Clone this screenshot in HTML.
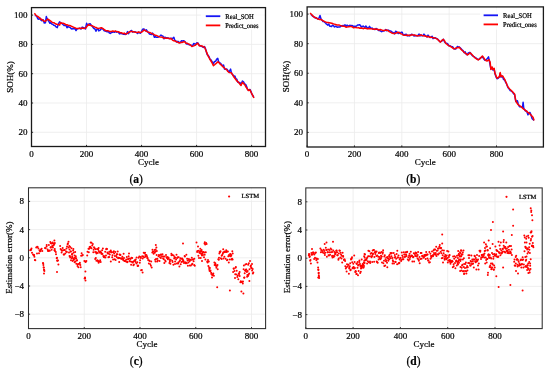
<!DOCTYPE html><html><head><meta charset="utf-8"><title>SOH estimation</title>
<style>html,body{margin:0;padding:0;background:#fff;}svg{display:block;}</style></head><body>
<svg width="550" height="371" viewBox="0 0 550 371" font-family='"Liberation Serif", "Times New Roman", serif' font-size="9.0" fill="#000">
<style>text{stroke:#000;stroke-width:0.2px;} text.lg{text-rendering:geometricPrecision;stroke-width:0.22px;}</style>
<rect width="550" height="371" fill="#fff"/>
<line x1="86.53" y1="7.60" x2="86.53" y2="146.50" stroke="#ebebeb" stroke-width="0.8"/>
<line x1="141.55" y1="7.60" x2="141.55" y2="146.50" stroke="#ebebeb" stroke-width="0.8"/>
<line x1="196.58" y1="7.60" x2="196.58" y2="146.50" stroke="#ebebeb" stroke-width="0.8"/>
<line x1="251.60" y1="7.60" x2="251.60" y2="146.50" stroke="#ebebeb" stroke-width="0.8"/>
<line x1="31.50" y1="132.30" x2="265.50" y2="132.30" stroke="#ebebeb" stroke-width="0.8"/>
<line x1="31.50" y1="103.00" x2="265.50" y2="103.00" stroke="#ebebeb" stroke-width="0.8"/>
<line x1="31.50" y1="73.70" x2="265.50" y2="73.70" stroke="#ebebeb" stroke-width="0.8"/>
<line x1="31.50" y1="44.40" x2="265.50" y2="44.40" stroke="#ebebeb" stroke-width="0.8"/>
<line x1="31.50" y1="15.10" x2="265.50" y2="15.10" stroke="#ebebeb" stroke-width="0.8"/>
<line x1="354.45" y1="6.90" x2="354.45" y2="147.00" stroke="#ebebeb" stroke-width="0.8"/>
<line x1="401.80" y1="6.90" x2="401.80" y2="147.00" stroke="#ebebeb" stroke-width="0.8"/>
<line x1="449.15" y1="6.90" x2="449.15" y2="147.00" stroke="#ebebeb" stroke-width="0.8"/>
<line x1="496.50" y1="6.90" x2="496.50" y2="147.00" stroke="#ebebeb" stroke-width="0.8"/>
<line x1="307.10" y1="132.40" x2="543.40" y2="132.40" stroke="#ebebeb" stroke-width="0.8"/>
<line x1="307.10" y1="102.83" x2="543.40" y2="102.83" stroke="#ebebeb" stroke-width="0.8"/>
<line x1="307.10" y1="73.25" x2="543.40" y2="73.25" stroke="#ebebeb" stroke-width="0.8"/>
<line x1="307.10" y1="43.67" x2="543.40" y2="43.67" stroke="#ebebeb" stroke-width="0.8"/>
<line x1="307.10" y1="14.10" x2="543.40" y2="14.10" stroke="#ebebeb" stroke-width="0.8"/>
<line x1="84.25" y1="187.80" x2="84.25" y2="328.60" stroke="#ebebeb" stroke-width="0.8"/>
<line x1="140.00" y1="187.80" x2="140.00" y2="328.60" stroke="#ebebeb" stroke-width="0.8"/>
<line x1="195.75" y1="187.80" x2="195.75" y2="328.60" stroke="#ebebeb" stroke-width="0.8"/>
<line x1="251.50" y1="187.80" x2="251.50" y2="328.60" stroke="#ebebeb" stroke-width="0.8"/>
<line x1="28.50" y1="314.20" x2="265.60" y2="314.20" stroke="#ebebeb" stroke-width="0.8"/>
<line x1="28.50" y1="286.00" x2="265.60" y2="286.00" stroke="#ebebeb" stroke-width="0.8"/>
<line x1="28.50" y1="257.80" x2="265.60" y2="257.80" stroke="#ebebeb" stroke-width="0.8"/>
<line x1="28.50" y1="229.60" x2="265.60" y2="229.60" stroke="#ebebeb" stroke-width="0.8"/>
<line x1="28.50" y1="201.40" x2="265.60" y2="201.40" stroke="#ebebeb" stroke-width="0.8"/>
<line x1="353.10" y1="187.90" x2="353.10" y2="328.60" stroke="#ebebeb" stroke-width="0.8"/>
<line x1="400.40" y1="187.90" x2="400.40" y2="328.60" stroke="#ebebeb" stroke-width="0.8"/>
<line x1="447.70" y1="187.90" x2="447.70" y2="328.60" stroke="#ebebeb" stroke-width="0.8"/>
<line x1="495.00" y1="187.90" x2="495.00" y2="328.60" stroke="#ebebeb" stroke-width="0.8"/>
<line x1="305.80" y1="314.60" x2="542.20" y2="314.60" stroke="#ebebeb" stroke-width="0.8"/>
<line x1="305.80" y1="286.40" x2="542.20" y2="286.40" stroke="#ebebeb" stroke-width="0.8"/>
<line x1="305.80" y1="258.20" x2="542.20" y2="258.20" stroke="#ebebeb" stroke-width="0.8"/>
<line x1="305.80" y1="230.00" x2="542.20" y2="230.00" stroke="#ebebeb" stroke-width="0.8"/>
<line x1="305.80" y1="201.80" x2="542.20" y2="201.80" stroke="#ebebeb" stroke-width="0.8"/>
<rect x="201" y="8.3" width="63.5" height="21.5" fill="#fff" fill-opacity="0.75"/>
<rect x="480" y="7.6" width="62.8" height="22" fill="#fff" fill-opacity="0.75"/>
<rect x="222" y="188.5" width="42.5" height="12" fill="#fff" fill-opacity="0.6"/>
<rect x="500" y="188.5" width="41" height="12" fill="#fff" fill-opacity="0.6"/>
<path d="M34.70,15.40 L35.75,15.49 L36.80,16.49 L37.85,18.83 L38.90,19.30 L39.93,18.08 L40.97,20.19 L42.00,20.80 L43.13,19.77 L44.27,22.96 L45.40,22.80 L46.30,16.60 L47.00,18.50 L48.00,20.20 L49.00,21.60 L49.94,23.34 L50.88,22.66 L51.82,24.06 L52.76,24.27 L53.70,25.20 L54.90,25.45 L56.10,26.91 L57.30,27.60 L58.45,23.81 L59.60,21.90 L61.00,23.00 L62.00,23.48 L63.00,24.50 L64.00,25.42 L65.00,25.34 L66.00,25.39 L67.00,27.74 L68.00,26.50 L69.00,27.17 L70.00,27.31 L71.00,28.49 L72.00,29.00 L73.00,28.61 L74.00,28.71 L75.00,28.74 L76.00,30.52 L77.00,29.00 L78.04,28.64 L79.08,28.37 L80.12,28.37 L81.16,28.99 L82.20,27.10 L83.27,27.57 L84.33,27.90 L85.40,29.00 L86.60,23.30 L87.80,25.51 L89.00,24.00 L90.13,23.74 L91.27,25.39 L92.40,26.50 L93.70,28.25 L95.00,29.00 L95.95,31.19 L96.90,29.24 L97.85,28.60 L98.80,30.90 L100.10,30.20 L101.40,28.50 L102.35,28.73 L103.30,29.46 L104.25,30.72 L105.20,31.00 L106.25,31.42 L107.30,31.72 L108.35,31.43 L109.40,32.97 L110.45,33.38 L111.50,32.50 L112.47,32.27 L113.45,31.66 L114.43,32.30 L115.40,31.50 L116.42,32.26 L117.44,31.52 L118.46,32.35 L119.48,33.89 L120.50,33.50 L121.50,33.63 L122.50,33.65 L123.50,34.26 L124.50,34.27 L125.50,34.50 L126.52,33.80 L127.54,31.65 L128.56,33.71 L129.58,31.85 L130.60,31.00 L131.62,30.54 L132.64,32.13 L133.66,31.83 L134.68,31.81 L135.70,32.00 L136.67,32.70 L137.63,33.53 L138.60,32.17 L139.57,32.86 L140.53,33.20 L141.50,31.50 L142.45,29.48 L143.40,29.00 L144.42,29.31 L145.44,30.98 L146.46,29.82 L147.48,31.60 L148.50,32.50 L149.50,33.97 L150.50,34.28 L151.50,34.43 L152.50,33.08 L153.50,35.00 L154.47,37.34 L155.45,36.56 L156.43,37.30 L157.40,37.30 L158.70,37.02 L160.00,36.00 L160.98,35.05 L161.97,35.59 L162.95,36.09 L163.93,38.77 L164.92,37.04 L165.90,38.00 L166.94,37.86 L167.98,37.89 L169.02,38.55 L170.06,38.54 L171.10,38.20 L172.01,38.88 L172.92,38.21 L173.83,37.28 L174.74,40.24 L175.66,40.79 L176.57,41.99 L177.48,41.47 L178.39,41.56 L179.30,42.50 L180.34,42.55 L181.38,40.81 L182.42,40.94 L183.46,40.71 L184.50,41.20 L185.43,42.02 L186.35,43.97 L187.28,43.57 L188.20,44.46 L189.12,44.38 L190.05,45.01 L190.97,45.06 L191.90,46.00 L192.82,45.41 L193.75,43.43 L194.68,43.97 L195.60,44.50 L196.70,42.78 L197.80,43.00 L199.30,45.20 L200.34,46.09 L201.38,46.22 L202.42,46.84 L203.46,47.41 L204.50,46.50 L205.43,48.52 L206.35,51.79 L207.27,54.72 L208.20,55.50 L209.13,56.96 L210.07,59.25 L211.00,59.90 L212.20,61.83 L213.40,64.00 L214.50,61.39 L215.60,61.29 L216.70,59.18 L217.80,58.40 L218.50,61.50 L219.57,62.68 L220.63,63.35 L221.70,64.80 L222.62,65.94 L223.55,65.00 L224.47,69.06 L225.40,69.42 L226.32,69.04 L227.25,69.52 L228.17,71.10 L229.10,72.00 L230.60,69.10 L231.30,72.30 L232.20,74.11 L233.10,75.22 L234.00,76.50 L234.90,76.02 L235.80,78.80 L236.84,79.15 L237.88,82.21 L238.92,82.58 L239.96,82.46 L241.00,84.80 L242.40,81.00 L243.55,81.85 L244.70,84.00 L245.62,84.41 L246.55,86.23 L247.47,89.39 L248.40,90.00 L249.90,89.40 L250.90,91.26 L251.90,94.30 L252.90,95.62 L253.90,97.50" fill="none" stroke="#1515f5" stroke-width="1.5" stroke-linejoin="round"/>
<path d="M34.40,13.30 L35.75,14.92 L37.10,16.30 L38.30,16.75 L39.50,17.91 L40.70,19.00 L42.27,19.78 L43.83,20.90 L45.40,21.30 L47.80,19.00 L49.00,19.90 L50.75,21.20 L52.50,22.50 L53.90,22.69 L55.30,23.78 L56.70,24.30 L58.15,24.45 L59.60,25.20 L60.50,22.60 L61.80,23.26 L63.10,23.30 L64.38,23.71 L65.65,24.70 L66.92,24.69 L68.20,25.20 L69.47,25.42 L70.75,25.78 L72.03,26.53 L73.30,27.10 L74.57,27.64 L75.83,28.26 L77.10,28.40 L78.38,28.47 L79.66,28.22 L80.94,28.53 L82.22,28.04 L83.50,28.40 L84.75,28.18 L86.00,27.70 L87.25,25.91 L88.50,24.50 L89.80,25.31 L91.10,25.61 L92.40,25.80 L93.70,26.54 L95.00,27.10 L96.25,27.49 L97.50,28.40 L98.80,28.30 L100.10,28.03 L101.40,27.70 L102.67,28.43 L103.93,29.28 L105.20,30.30 L106.46,30.86 L107.72,30.68 L108.98,31.13 L110.24,31.61 L111.50,31.50 L112.80,30.93 L114.10,31.55 L115.40,30.90 L116.68,31.63 L117.95,31.69 L119.22,32.09 L120.50,32.80 L121.75,32.82 L123.00,33.68 L124.25,33.13 L125.50,34.10 L126.78,33.68 L128.05,32.84 L129.32,31.98 L130.60,31.50 L131.88,31.55 L133.15,31.76 L134.42,31.97 L135.70,32.20 L137.15,32.42 L138.60,31.99 L140.05,32.47 L141.50,32.20 L142.75,31.35 L144.00,30.00 L145.50,30.67 L147.00,31.62 L148.50,32.20 L149.75,32.54 L151.00,33.16 L152.25,33.75 L153.50,34.10 L154.78,35.21 L156.05,35.34 L157.32,35.94 L158.60,36.60 L159.82,36.89 L161.03,37.12 L162.25,37.18 L163.47,38.20 L164.68,37.86 L165.90,38.30 L167.20,38.23 L168.50,38.27 L169.80,38.70 L171.10,38.60 L172.47,40.09 L173.83,40.86 L175.20,41.10 L176.57,41.69 L177.93,42.34 L179.30,43.10 L180.60,42.47 L181.90,42.54 L183.20,41.95 L184.50,41.60 L185.73,42.94 L186.97,43.16 L188.20,43.80 L189.43,44.41 L190.67,45.24 L191.90,46.50 L193.13,46.15 L194.37,45.59 L195.60,45.00 L197.80,43.20 L199.30,45.80 L200.60,45.81 L201.90,46.02 L203.20,46.77 L204.50,47.00 L205.73,49.94 L206.97,53.12 L208.20,56.10 L209.50,58.52 L210.80,60.75 L212.10,62.94 L213.40,65.80 L214.93,64.47 L216.47,63.09 L218.00,61.70 L219.23,62.98 L220.47,64.40 L221.70,65.40 L222.93,66.82 L224.17,67.64 L225.40,69.10 L226.63,69.59 L227.87,71.49 L229.10,72.50 L231.30,72.80 L232.80,75.03 L234.30,77.52 L235.80,79.50 L237.10,81.22 L238.40,82.21 L239.70,83.89 L241.00,85.40 L242.40,82.40 L244.70,84.70 L245.93,86.95 L247.17,88.50 L248.40,90.60 L249.90,89.90 L251.23,92.62 L252.57,95.15 L253.90,98.00" fill="none" stroke="#ff0000" stroke-width="1.5" stroke-linejoin="round"/>
<path d="M310.70,14.30 L311.60,14.87 L312.50,16.20 L313.40,16.41 L314.30,17.10 L315.20,18.10 L316.13,17.70 L317.07,18.54 L318.00,19.00 L319.00,18.08 L320.00,15.50 L321.00,19.00 L322.00,20.15 L323.00,21.44 L324.00,21.50 L324.98,22.59 L325.95,23.60 L326.92,24.34 L327.90,25.10 L328.81,24.12 L329.73,26.28 L330.64,26.29 L331.56,26.56 L332.47,25.19 L333.39,25.42 L334.30,27.00 L335.24,26.33 L336.18,26.65 L337.12,27.23 L338.06,26.97 L339.00,27.00 L340.00,27.02 L341.00,25.77 L342.00,26.11 L343.00,25.50 L344.00,25.70 L345.00,24.80 L346.00,26.49 L347.00,25.10 L347.95,25.69 L348.90,26.35 L349.85,25.16 L350.80,25.80 L351.87,25.48 L352.93,26.01 L354.00,26.50 L354.90,26.14 L355.80,26.41 L356.70,25.85 L357.60,25.04 L358.50,25.10 L359.45,24.73 L360.40,25.41 L361.35,27.07 L362.30,26.50 L363.20,26.05 L364.10,27.00 L365.00,27.29 L365.90,26.01 L366.80,27.32 L367.70,28.42 L368.60,27.60 L369.51,26.36 L370.43,27.90 L371.34,28.33 L372.26,28.07 L373.17,29.33 L374.09,29.18 L375.00,29.50 L376.30,28.45 L377.60,29.60 L378.62,30.46 L379.64,30.58 L380.66,31.03 L381.68,31.64 L382.70,30.80 L383.72,30.95 L384.74,30.65 L385.76,29.47 L386.78,30.78 L387.80,30.20 L388.82,30.32 L389.84,31.02 L390.86,30.99 L391.88,31.79 L392.90,33.10 L393.81,32.60 L394.73,33.87 L395.64,31.28 L396.56,31.61 L397.47,32.78 L398.39,33.58 L399.30,32.40 L400.25,33.41 L401.20,32.13 L402.15,32.24 L403.10,34.70 L404.12,35.09 L405.14,34.39 L406.16,34.22 L407.18,35.91 L408.20,35.30 L409.15,35.88 L410.10,34.92 L411.05,34.73 L412.00,34.30 L413.02,34.89 L414.04,36.02 L415.06,35.54 L416.08,35.73 L417.10,35.60 L418.05,35.81 L419.00,34.02 L419.95,35.96 L420.90,34.80 L421.92,35.80 L422.94,35.76 L423.96,34.16 L424.98,35.44 L426.00,36.20 L427.02,36.99 L428.04,35.16 L429.06,36.54 L430.08,37.60 L431.10,37.00 L432.08,36.22 L433.05,38.61 L434.02,38.01 L435.00,37.80 L436.35,38.39 L437.70,39.20 L439.05,40.74 L440.40,41.80 L441.40,41.42 L442.40,40.16 L443.40,39.20 L444.60,42.06 L445.80,43.20 L446.88,43.36 L447.96,44.21 L449.04,45.96 L450.12,45.86 L451.20,46.50 L452.55,46.84 L453.90,48.50 L454.80,48.96 L455.70,49.10 L456.60,47.42 L457.50,46.47 L458.40,47.15 L459.30,47.00 L460.65,48.29 L462.00,49.80 L463.08,50.54 L464.16,52.77 L465.24,51.91 L466.32,54.59 L467.40,54.60 L468.30,52.95 L469.20,52.61 L470.10,52.50 L471.10,54.00 L472.10,55.40 L473.10,56.22 L474.10,56.60 L475.12,57.61 L476.15,58.21 L477.18,58.96 L478.20,59.60 L479.25,59.26 L480.30,57.92 L481.35,57.48 L482.40,56.50 L483.65,58.78 L484.90,60.20 L486.30,59.80 L487.40,58.35 L488.50,56.90 L489.50,61.50 L490.90,69.00 L492.10,67.50 L493.00,70.00 L494.10,69.00 L495.00,73.80 L496.00,76.82 L497.00,78.70 L498.20,78.27 L499.40,77.00 L500.20,73.50 L501.00,77.00 L502.60,76.50 L503.55,79.51 L504.50,79.50 L505.40,81.82 L506.30,83.33 L507.20,85.45 L508.10,87.80 L509.17,88.86 L510.23,90.63 L511.30,91.00 L512.40,91.95 L513.50,93.69 L514.60,94.60 L515.80,101.40 L517.40,100.70 L518.20,104.00 L519.45,106.78 L520.70,106.80 L522.50,107.50 L523.10,102.30 L523.80,108.50 L525.50,111.00 L526.70,110.98 L527.90,114.80 L528.95,112.76 L530.00,112.40 L531.00,115.00 L532.00,118.40 L533.00,119.53 L534.00,120.30" fill="none" stroke="#1515f5" stroke-width="1.5" stroke-linejoin="round"/>
<path d="M310.10,13.00 L311.35,14.34 L312.60,15.50 L313.90,17.00 L315.20,17.51 L316.50,18.10 L318.05,19.03 L319.60,19.40 L321.00,19.50 L322.47,20.46 L323.93,21.20 L325.40,21.90 L326.67,22.39 L327.93,22.53 L329.20,22.68 L330.47,22.95 L331.73,23.20 L333.00,23.80 L334.28,24.14 L335.56,24.49 L336.84,25.02 L338.12,24.99 L339.40,25.10 L340.66,25.58 L341.92,26.06 L343.18,26.26 L344.44,26.17 L345.70,27.00 L346.98,27.15 L348.25,26.61 L349.52,26.63 L350.80,26.40 L352.07,26.66 L353.35,27.77 L354.62,27.62 L355.90,27.60 L357.18,27.87 L358.46,27.62 L359.74,28.28 L361.02,27.96 L362.30,28.30 L363.58,28.69 L364.87,28.07 L366.15,28.51 L367.43,28.84 L368.72,28.44 L370.00,28.70 L371.27,28.84 L372.53,28.94 L373.80,29.22 L375.07,28.94 L376.33,29.33 L377.60,29.20 L378.88,30.07 L380.15,29.44 L381.43,29.91 L382.70,30.40 L383.98,30.55 L385.25,30.26 L386.52,30.08 L387.80,30.40 L389.07,31.55 L390.35,32.18 L391.62,32.97 L392.90,33.40 L394.18,33.57 L395.46,33.34 L396.74,32.80 L398.02,32.26 L399.30,32.70 L400.57,33.63 L401.83,33.99 L403.10,35.00 L404.38,35.17 L405.65,35.38 L406.93,35.08 L408.20,35.50 L409.47,35.15 L410.73,35.39 L412.00,34.60 L413.27,35.16 L414.55,34.86 L415.83,35.56 L417.10,35.90 L418.37,35.64 L419.63,35.48 L420.90,35.00 L422.17,35.55 L423.45,35.67 L424.73,35.95 L426.00,36.30 L427.27,36.79 L428.55,36.41 L429.83,37.31 L431.10,37.20 L432.40,37.62 L433.70,37.70 L435.00,38.10 L436.35,38.63 L437.70,39.40 L439.05,40.84 L440.40,42.10 L441.90,40.40 L443.40,39.40 L444.60,40.87 L445.80,43.50 L447.15,44.48 L448.50,45.61 L449.85,46.04 L451.20,46.90 L452.55,47.94 L453.90,48.90 L455.25,48.52 L456.60,47.87 L457.95,47.83 L459.30,47.30 L460.65,48.98 L462.00,50.20 L463.35,51.43 L464.70,52.86 L466.05,53.55 L467.40,55.00 L468.75,54.04 L470.10,52.90 L471.43,54.09 L472.77,55.52 L474.10,57.00 L475.47,58.09 L476.83,59.06 L478.20,60.00 L479.60,58.94 L481.00,57.59 L482.40,56.10 L483.65,57.61 L484.90,59.70 L486.10,60.65 L487.30,60.90 L488.90,59.70 L490.10,62.10 L490.90,69.40 L492.10,67.00 L492.90,69.40 L494.10,68.20 L495.00,73.40 L497.00,78.30 L499.40,76.70 L500.20,72.60 L501.00,76.70 L502.60,75.90 L504.50,79.20 L505.70,81.51 L506.90,84.59 L508.10,87.30 L509.70,88.99 L511.30,90.50 L512.95,92.29 L514.60,94.10 L515.80,101.00 L517.00,102.99 L518.20,104.70 L519.45,105.51 L520.70,106.30 L523.10,108.70 L525.50,110.40 L527.90,112.40 L529.60,113.60 L531.20,115.20 L533.20,117.60 L534.00,120.50" fill="none" stroke="#ff0000" stroke-width="1.5" stroke-linejoin="round"/>
<g fill="#ff0000"><circle cx="30.2" cy="250.2" r="1.0"/><circle cx="30.8" cy="249.9" r="1.0"/><circle cx="31.1" cy="249.4" r="1.0"/><circle cx="31.5" cy="248.6" r="1.0"/><circle cx="32.0" cy="252.7" r="1.0"/><circle cx="33.0" cy="254.5" r="1.0"/><circle cx="33.8" cy="255.3" r="1.0"/><circle cx="34.1" cy="254.9" r="1.0"/><circle cx="34.4" cy="256.7" r="1.0"/><circle cx="34.9" cy="259.9" r="1.0"/><circle cx="35.3" cy="260.2" r="1.0"/><circle cx="36.2" cy="247.6" r="1.0"/><circle cx="37.0" cy="253.4" r="1.0"/><circle cx="37.2" cy="246.7" r="1.0"/><circle cx="37.6" cy="247.0" r="1.0"/><circle cx="38.4" cy="248.6" r="1.0"/><circle cx="39.0" cy="253.2" r="1.0"/><circle cx="39.5" cy="250.4" r="1.0"/><circle cx="40.0" cy="251.1" r="1.0"/><circle cx="40.4" cy="250.0" r="1.0"/><circle cx="40.5" cy="251.2" r="1.0"/><circle cx="41.1" cy="249.4" r="1.0"/><circle cx="41.6" cy="248.8" r="1.0"/><circle cx="42.3" cy="251.1" r="1.0"/><circle cx="43.0" cy="262.9" r="1.0"/><circle cx="43.2" cy="263.6" r="1.0"/><circle cx="43.4" cy="265.0" r="1.0"/><circle cx="43.6" cy="267.2" r="1.0"/><circle cx="43.8" cy="267.8" r="1.0"/><circle cx="44.0" cy="269.7" r="1.0"/><circle cx="44.2" cy="270.1" r="1.0"/><circle cx="44.4" cy="271.0" r="1.0"/><circle cx="45.0" cy="248.0" r="1.0"/><circle cx="45.7" cy="248.2" r="1.0"/><circle cx="46.6" cy="246.4" r="1.0"/><circle cx="46.7" cy="245.1" r="1.0"/><circle cx="47.6" cy="249.5" r="1.0"/><circle cx="48.0" cy="250.7" r="1.0"/><circle cx="48.2" cy="251.0" r="1.0"/><circle cx="48.9" cy="245.0" r="1.0"/><circle cx="49.2" cy="250.6" r="1.0"/><circle cx="49.8" cy="250.8" r="1.0"/><circle cx="50.6" cy="247.3" r="1.0"/><circle cx="50.8" cy="247.4" r="1.0"/><circle cx="51.6" cy="249.7" r="1.0"/><circle cx="52.3" cy="246.1" r="1.0"/><circle cx="52.3" cy="246.6" r="1.0"/><circle cx="52.9" cy="247.6" r="1.0"/><circle cx="53.7" cy="245.3" r="1.0"/><circle cx="54.4" cy="250.3" r="1.0"/><circle cx="54.8" cy="249.0" r="1.0"/><circle cx="55.0" cy="250.9" r="1.0"/><circle cx="55.8" cy="252.1" r="1.0"/><circle cx="50.3" cy="241.9" r="1.0"/><circle cx="50.8" cy="243.3" r="1.0"/><circle cx="51.7" cy="243.4" r="1.0"/><circle cx="52.3" cy="243.2" r="1.0"/><circle cx="52.7" cy="242.5" r="1.0"/><circle cx="53.7" cy="243.8" r="1.0"/><circle cx="54.3" cy="244.1" r="1.0"/><circle cx="54.8" cy="243.1" r="1.0"/><circle cx="56.0" cy="254.3" r="1.0"/><circle cx="56.7" cy="258.2" r="1.0"/><circle cx="57.0" cy="257.8" r="1.0"/><circle cx="57.2" cy="260.8" r="1.0"/><circle cx="57.4" cy="260.5" r="1.0"/><circle cx="58.0" cy="260.6" r="1.0"/><circle cx="58.4" cy="264.6" r="1.0"/><circle cx="60.1" cy="245.9" r="1.0"/><circle cx="60.6" cy="248.9" r="1.0"/><circle cx="61.4" cy="249.9" r="1.0"/><circle cx="61.6" cy="252.4" r="1.0"/><circle cx="62.0" cy="250.7" r="1.0"/><circle cx="62.7" cy="248.1" r="1.0"/><circle cx="63.1" cy="250.2" r="1.0"/><circle cx="63.7" cy="254.5" r="1.0"/><circle cx="64.1" cy="254.5" r="1.0"/><circle cx="64.4" cy="250.1" r="1.0"/><circle cx="64.8" cy="250.0" r="1.0"/><circle cx="65.3" cy="253.4" r="1.0"/><circle cx="66.1" cy="251.6" r="1.0"/><circle cx="66.5" cy="248.5" r="1.0"/><circle cx="66.9" cy="251.9" r="1.0"/><circle cx="67.0" cy="246.4" r="1.0"/><circle cx="67.6" cy="244.3" r="1.0"/><circle cx="67.9" cy="243.6" r="1.0"/><circle cx="68.5" cy="247.4" r="1.0"/><circle cx="69.0" cy="252.5" r="1.0"/><circle cx="69.3" cy="246.0" r="1.0"/><circle cx="69.5" cy="249.5" r="1.0"/><circle cx="70.2" cy="246.9" r="1.0"/><circle cx="70.6" cy="251.6" r="1.0"/><circle cx="70.9" cy="251.5" r="1.0"/><circle cx="71.5" cy="248.3" r="1.0"/><circle cx="71.9" cy="254.2" r="1.0"/><circle cx="72.2" cy="256.2" r="1.0"/><circle cx="72.5" cy="253.7" r="1.0"/><circle cx="73.1" cy="250.4" r="1.0"/><circle cx="73.4" cy="249.1" r="1.0"/><circle cx="73.8" cy="252.6" r="1.0"/><circle cx="74.0" cy="259.5" r="1.0"/><circle cx="74.6" cy="255.4" r="1.0"/><circle cx="74.9" cy="257.8" r="1.0"/><circle cx="75.2" cy="252.1" r="1.0"/><circle cx="75.8" cy="256.2" r="1.0"/><circle cx="69.5" cy="256.1" r="1.0"/><circle cx="70.0" cy="256.3" r="1.0"/><circle cx="70.2" cy="257.6" r="1.0"/><circle cx="71.0" cy="260.3" r="1.0"/><circle cx="71.8" cy="258.3" r="1.0"/><circle cx="72.4" cy="257.4" r="1.0"/><circle cx="72.6" cy="261.1" r="1.0"/><circle cx="73.4" cy="260.1" r="1.0"/><circle cx="73.7" cy="258.6" r="1.0"/><circle cx="74.6" cy="262.3" r="1.0"/><circle cx="75.3" cy="261.5" r="1.0"/><circle cx="75.6" cy="258.4" r="1.0"/><circle cx="76.2" cy="258.3" r="1.0"/><circle cx="77.0" cy="260.3" r="1.0"/><circle cx="76.3" cy="263.8" r="1.0"/><circle cx="76.8" cy="260.4" r="1.0"/><circle cx="77.5" cy="266.1" r="1.0"/><circle cx="77.6" cy="264.3" r="1.0"/><circle cx="78.4" cy="267.2" r="1.0"/><circle cx="78.7" cy="263.9" r="1.0"/><circle cx="79.5" cy="263.8" r="1.0"/><circle cx="79.9" cy="262.8" r="1.0"/><circle cx="80.3" cy="265.0" r="1.0"/><circle cx="80.7" cy="267.3" r="1.0"/><circle cx="81.1" cy="255.8" r="1.0"/><circle cx="81.6" cy="253.2" r="1.0"/><circle cx="82.2" cy="255.6" r="1.0"/><circle cx="82.8" cy="255.1" r="1.0"/><circle cx="84.4" cy="260.9" r="1.0"/><circle cx="85.2" cy="261.4" r="1.0"/><circle cx="85.7" cy="262.1" r="1.0"/><circle cx="86.4" cy="261.1" r="1.0"/><circle cx="84.6" cy="278.4" r="1.0"/><circle cx="85.0" cy="277.4" r="1.0"/><circle cx="85.1" cy="278.2" r="1.0"/><circle cx="85.5" cy="280.6" r="1.0"/><circle cx="87.2" cy="255.4" r="1.0"/><circle cx="87.5" cy="251.8" r="1.0"/><circle cx="88.5" cy="248.8" r="1.0"/><circle cx="88.8" cy="252.3" r="1.0"/><circle cx="89.1" cy="248.7" r="1.0"/><circle cx="89.6" cy="246.9" r="1.0"/><circle cx="90.3" cy="246.7" r="1.0"/><circle cx="90.6" cy="247.8" r="1.0"/><circle cx="91.5" cy="242.8" r="1.0"/><circle cx="91.5" cy="248.2" r="1.0"/><circle cx="92.2" cy="245.6" r="1.0"/><circle cx="92.8" cy="244.0" r="1.0"/><circle cx="93.3" cy="252.3" r="1.0"/><circle cx="93.6" cy="249.8" r="1.0"/><circle cx="94.0" cy="247.2" r="1.0"/><circle cx="94.7" cy="248.2" r="1.0"/><circle cx="95.2" cy="252.0" r="1.0"/><circle cx="95.7" cy="249.2" r="1.0"/><circle cx="96.3" cy="252.2" r="1.0"/><circle cx="96.4" cy="253.5" r="1.0"/><circle cx="97.2" cy="249.0" r="1.0"/><circle cx="97.7" cy="253.1" r="1.0"/><circle cx="98.1" cy="249.3" r="1.0"/><circle cx="98.6" cy="247.9" r="1.0"/><circle cx="98.7" cy="251.0" r="1.0"/><circle cx="99.5" cy="252.5" r="1.0"/><circle cx="99.9" cy="252.3" r="1.0"/><circle cx="100.4" cy="251.4" r="1.0"/><circle cx="101.1" cy="252.6" r="1.0"/><circle cx="101.4" cy="253.8" r="1.0"/><circle cx="101.8" cy="253.5" r="1.0"/><circle cx="95.2" cy="259.0" r="1.0"/><circle cx="95.8" cy="258.0" r="1.0"/><circle cx="96.4" cy="260.7" r="1.0"/><circle cx="97.4" cy="260.3" r="1.0"/><circle cx="98.0" cy="261.1" r="1.0"/><circle cx="98.4" cy="261.5" r="1.0"/><circle cx="98.6" cy="262.7" r="1.0"/><circle cx="99.3" cy="261.6" r="1.0"/><circle cx="100.2" cy="260.3" r="1.0"/><circle cx="100.7" cy="262.1" r="1.0"/><circle cx="102.1" cy="250.2" r="1.0"/><circle cx="102.5" cy="254.0" r="1.0"/><circle cx="102.9" cy="248.6" r="1.0"/><circle cx="103.3" cy="256.0" r="1.0"/><circle cx="103.8" cy="257.1" r="1.0"/><circle cx="104.4" cy="257.3" r="1.0"/><circle cx="104.4" cy="256.2" r="1.0"/><circle cx="105.2" cy="251.7" r="1.0"/><circle cx="105.4" cy="257.6" r="1.0"/><circle cx="106.0" cy="255.6" r="1.0"/><circle cx="106.2" cy="249.3" r="1.0"/><circle cx="106.5" cy="248.8" r="1.0"/><circle cx="107.0" cy="248.9" r="1.0"/><circle cx="107.4" cy="252.4" r="1.0"/><circle cx="107.8" cy="253.6" r="1.0"/><circle cx="108.4" cy="257.2" r="1.0"/><circle cx="108.7" cy="253.6" r="1.0"/><circle cx="109.1" cy="257.1" r="1.0"/><circle cx="109.3" cy="251.7" r="1.0"/><circle cx="109.8" cy="254.5" r="1.0"/><circle cx="110.3" cy="251.7" r="1.0"/><circle cx="110.8" cy="261.4" r="1.0"/><circle cx="110.8" cy="250.4" r="1.0"/><circle cx="111.4" cy="252.3" r="1.0"/><circle cx="111.8" cy="252.3" r="1.0"/><circle cx="112.2" cy="257.2" r="1.0"/><circle cx="112.5" cy="255.2" r="1.0"/><circle cx="113.1" cy="259.5" r="1.0"/><circle cx="113.2" cy="252.3" r="1.0"/><circle cx="113.9" cy="251.3" r="1.0"/><circle cx="114.2" cy="253.6" r="1.0"/><circle cx="114.7" cy="259.3" r="1.0"/><circle cx="114.9" cy="256.1" r="1.0"/><circle cx="115.4" cy="252.1" r="1.0"/><circle cx="115.6" cy="259.9" r="1.0"/><circle cx="116.2" cy="256.1" r="1.0"/><circle cx="116.7" cy="254.3" r="1.0"/><circle cx="116.9" cy="257.3" r="1.0"/><circle cx="117.2" cy="254.2" r="1.0"/><circle cx="117.7" cy="251.4" r="1.0"/><circle cx="118.1" cy="258.3" r="1.0"/><circle cx="118.7" cy="257.7" r="1.0"/><circle cx="119.2" cy="262.0" r="1.0"/><circle cx="119.5" cy="254.4" r="1.0"/><circle cx="119.7" cy="258.1" r="1.0"/><circle cx="120.1" cy="254.8" r="1.0"/><circle cx="120.5" cy="255.0" r="1.0"/><circle cx="120.9" cy="258.5" r="1.0"/><circle cx="121.5" cy="258.5" r="1.0"/><circle cx="121.7" cy="258.7" r="1.0"/><circle cx="122.4" cy="256.8" r="1.0"/><circle cx="122.6" cy="258.5" r="1.0"/><circle cx="123.2" cy="259.4" r="1.0"/><circle cx="123.4" cy="260.2" r="1.0"/><circle cx="123.6" cy="253.7" r="1.0"/><circle cx="124.0" cy="257.9" r="1.0"/><circle cx="124.5" cy="260.9" r="1.0"/><circle cx="124.9" cy="261.0" r="1.0"/><circle cx="125.4" cy="261.0" r="1.0"/><circle cx="126.0" cy="261.6" r="1.0"/><circle cx="126.2" cy="259.4" r="1.0"/><circle cx="126.8" cy="256.9" r="1.0"/><circle cx="127.2" cy="262.3" r="1.0"/><circle cx="127.6" cy="261.7" r="1.0"/><circle cx="128.0" cy="259.3" r="1.0"/><circle cx="128.4" cy="258.8" r="1.0"/><circle cx="128.6" cy="256.3" r="1.0"/><circle cx="129.0" cy="253.4" r="1.0"/><circle cx="129.3" cy="258.5" r="1.0"/><circle cx="129.7" cy="261.0" r="1.0"/><circle cx="130.1" cy="261.6" r="1.0"/><circle cx="130.5" cy="259.1" r="1.0"/><circle cx="131.1" cy="264.7" r="1.0"/><circle cx="131.4" cy="257.7" r="1.0"/><circle cx="131.8" cy="261.8" r="1.0"/><circle cx="132.2" cy="257.9" r="1.0"/><circle cx="132.6" cy="262.4" r="1.0"/><circle cx="133.2" cy="261.7" r="1.0"/><circle cx="133.4" cy="265.2" r="1.0"/><circle cx="133.9" cy="264.6" r="1.0"/><circle cx="134.3" cy="260.7" r="1.0"/><circle cx="134.8" cy="260.6" r="1.0"/><circle cx="135.1" cy="260.6" r="1.0"/><circle cx="135.6" cy="261.9" r="1.0"/><circle cx="135.7" cy="259.5" r="1.0"/><circle cx="136.4" cy="263.6" r="1.0"/><circle cx="136.6" cy="257.6" r="1.0"/><circle cx="137.3" cy="262.3" r="1.0"/><circle cx="137.6" cy="265.9" r="1.0"/><circle cx="137.8" cy="265.4" r="1.0"/><circle cx="138.2" cy="265.7" r="1.0"/><circle cx="138.6" cy="257.7" r="1.0"/><circle cx="139.3" cy="256.6" r="1.0"/><circle cx="139.8" cy="262.8" r="1.0"/><circle cx="140.1" cy="260.3" r="1.0"/><circle cx="140.6" cy="256.9" r="1.0"/><circle cx="140.9" cy="257.9" r="1.0"/><circle cx="141.1" cy="270.3" r="1.0"/><circle cx="141.9" cy="269.9" r="1.0"/><circle cx="142.6" cy="272.5" r="1.0"/><circle cx="142.2" cy="256.2" r="1.0"/><circle cx="142.7" cy="258.4" r="1.0"/><circle cx="143.3" cy="256.5" r="1.0"/><circle cx="143.7" cy="252.7" r="1.0"/><circle cx="144.1" cy="257.2" r="1.0"/><circle cx="144.6" cy="253.0" r="1.0"/><circle cx="145.0" cy="252.8" r="1.0"/><circle cx="145.3" cy="254.9" r="1.0"/><circle cx="145.8" cy="256.8" r="1.0"/><circle cx="146.4" cy="255.1" r="1.0"/><circle cx="147.0" cy="256.3" r="1.0"/><circle cx="147.4" cy="257.9" r="1.0"/><circle cx="147.6" cy="258.2" r="1.0"/><circle cx="148.1" cy="260.1" r="1.0"/><circle cx="148.9" cy="263.6" r="1.0"/><circle cx="149.1" cy="260.5" r="1.0"/><circle cx="149.7" cy="261.0" r="1.0"/><circle cx="150.3" cy="264.2" r="1.0"/><circle cx="150.9" cy="265.7" r="1.0"/><circle cx="151.2" cy="261.6" r="1.0"/><circle cx="151.7" cy="267.4" r="1.0"/><circle cx="152.3" cy="252.5" r="1.0"/><circle cx="152.5" cy="249.7" r="1.0"/><circle cx="153.0" cy="251.6" r="1.0"/><circle cx="153.6" cy="253.8" r="1.0"/><circle cx="153.9" cy="251.8" r="1.0"/><circle cx="154.7" cy="250.1" r="1.0"/><circle cx="154.8" cy="252.8" r="1.0"/><circle cx="155.6" cy="249.6" r="1.0"/><circle cx="155.7" cy="251.5" r="1.0"/><circle cx="156.4" cy="247.6" r="1.0"/><circle cx="156.8" cy="250.9" r="1.0"/><circle cx="155.1" cy="259.7" r="1.0"/><circle cx="155.5" cy="261.4" r="1.0"/><circle cx="156.0" cy="259.1" r="1.0"/><circle cx="156.6" cy="255.1" r="1.0"/><circle cx="157.2" cy="261.5" r="1.0"/><circle cx="157.3" cy="258.7" r="1.0"/><circle cx="157.8" cy="260.5" r="1.0"/><circle cx="158.5" cy="256.3" r="1.0"/><circle cx="158.9" cy="254.9" r="1.0"/><circle cx="159.5" cy="261.1" r="1.0"/><circle cx="159.8" cy="255.5" r="1.0"/><circle cx="160.1" cy="257.2" r="1.0"/><circle cx="160.8" cy="254.5" r="1.0"/><circle cx="160.9" cy="257.9" r="1.0"/><circle cx="161.6" cy="254.8" r="1.0"/><circle cx="162.0" cy="256.6" r="1.0"/><circle cx="162.5" cy="254.3" r="1.0"/><circle cx="163.1" cy="258.5" r="1.0"/><circle cx="163.3" cy="256.6" r="1.0"/><circle cx="163.9" cy="259.2" r="1.0"/><circle cx="164.3" cy="263.0" r="1.0"/><circle cx="164.7" cy="256.4" r="1.0"/><circle cx="165.2" cy="260.5" r="1.0"/><circle cx="165.6" cy="261.4" r="1.0"/><circle cx="166.0" cy="254.9" r="1.0"/><circle cx="166.6" cy="257.5" r="1.0"/><circle cx="167.1" cy="257.0" r="1.0"/><circle cx="167.2" cy="258.2" r="1.0"/><circle cx="167.9" cy="259.3" r="1.0"/><circle cx="168.3" cy="257.4" r="1.0"/><circle cx="168.7" cy="258.2" r="1.0"/><circle cx="169.4" cy="262.9" r="1.0"/><circle cx="169.7" cy="259.9" r="1.0"/><circle cx="169.9" cy="261.5" r="1.0"/><circle cx="170.4" cy="263.7" r="1.0"/><circle cx="170.6" cy="259.8" r="1.0"/><circle cx="171.4" cy="253.8" r="1.0"/><circle cx="171.5" cy="255.3" r="1.0"/><circle cx="172.2" cy="260.8" r="1.0"/><circle cx="172.4" cy="255.0" r="1.0"/><circle cx="172.6" cy="262.1" r="1.0"/><circle cx="173.4" cy="264.7" r="1.0"/><circle cx="173.6" cy="255.5" r="1.0"/><circle cx="174.2" cy="258.6" r="1.0"/><circle cx="174.5" cy="257.1" r="1.0"/><circle cx="175.0" cy="264.1" r="1.0"/><circle cx="175.1" cy="261.4" r="1.0"/><circle cx="175.4" cy="257.7" r="1.0"/><circle cx="176.1" cy="259.5" r="1.0"/><circle cx="176.5" cy="254.8" r="1.0"/><circle cx="176.9" cy="263.4" r="1.0"/><circle cx="177.1" cy="258.1" r="1.0"/><circle cx="177.7" cy="257.3" r="1.0"/><circle cx="178.1" cy="263.4" r="1.0"/><circle cx="178.3" cy="262.6" r="1.0"/><circle cx="178.7" cy="257.2" r="1.0"/><circle cx="179.4" cy="261.5" r="1.0"/><circle cx="179.4" cy="266.4" r="1.0"/><circle cx="180.0" cy="260.3" r="1.0"/><circle cx="180.4" cy="258.3" r="1.0"/><circle cx="180.7" cy="264.2" r="1.0"/><circle cx="181.3" cy="258.7" r="1.0"/><circle cx="181.5" cy="262.1" r="1.0"/><circle cx="182.2" cy="258.6" r="1.0"/><circle cx="182.4" cy="261.4" r="1.0"/><circle cx="182.8" cy="259.6" r="1.0"/><circle cx="183.2" cy="260.4" r="1.0"/><circle cx="183.7" cy="261.5" r="1.0"/><circle cx="184.0" cy="262.9" r="1.0"/><circle cx="184.6" cy="255.9" r="1.0"/><circle cx="184.9" cy="256.5" r="1.0"/><circle cx="185.2" cy="262.5" r="1.0"/><circle cx="185.7" cy="263.3" r="1.0"/><circle cx="185.9" cy="262.5" r="1.0"/><circle cx="186.4" cy="254.7" r="1.0"/><circle cx="186.8" cy="263.2" r="1.0"/><circle cx="187.1" cy="258.7" r="1.0"/><circle cx="187.6" cy="260.4" r="1.0"/><circle cx="187.9" cy="265.8" r="1.0"/><circle cx="188.4" cy="262.4" r="1.0"/><circle cx="188.9" cy="259.1" r="1.0"/><circle cx="189.0" cy="260.0" r="1.0"/><circle cx="189.6" cy="261.2" r="1.0"/><circle cx="189.8" cy="265.6" r="1.0"/><circle cx="190.3" cy="259.8" r="1.0"/><circle cx="190.9" cy="265.5" r="1.0"/><circle cx="191.0" cy="260.0" r="1.0"/><circle cx="191.8" cy="257.7" r="1.0"/><circle cx="192.0" cy="264.6" r="1.0"/><circle cx="192.4" cy="263.8" r="1.0"/><circle cx="192.6" cy="259.6" r="1.0"/><circle cx="193.2" cy="259.4" r="1.0"/><circle cx="193.6" cy="261.3" r="1.0"/><circle cx="194.1" cy="264.9" r="1.0"/><circle cx="194.3" cy="258.8" r="1.0"/><circle cx="194.8" cy="265.8" r="1.0"/><circle cx="197.1" cy="252.0" r="1.0"/><circle cx="197.4" cy="250.9" r="1.0"/><circle cx="198.0" cy="246.5" r="1.0"/><circle cx="198.4" cy="255.7" r="1.0"/><circle cx="198.8" cy="250.8" r="1.0"/><circle cx="199.0" cy="258.1" r="1.0"/><circle cx="199.3" cy="252.5" r="1.0"/><circle cx="199.7" cy="251.9" r="1.0"/><circle cx="200.1" cy="253.2" r="1.0"/><circle cx="200.7" cy="257.9" r="1.0"/><circle cx="201.1" cy="251.0" r="1.0"/><circle cx="201.4" cy="253.7" r="1.0"/><circle cx="201.6" cy="250.0" r="1.0"/><circle cx="202.0" cy="261.1" r="1.0"/><circle cx="202.5" cy="252.6" r="1.0"/><circle cx="203.0" cy="255.0" r="1.0"/><circle cx="204.5" cy="243.4" r="1.0"/><circle cx="204.8" cy="242.3" r="1.0"/><circle cx="205.2" cy="244.4" r="1.0"/><circle cx="206.1" cy="243.1" r="1.0"/><circle cx="206.6" cy="243.9" r="1.0"/><circle cx="200.3" cy="248.8" r="1.0"/><circle cx="200.6" cy="251.4" r="1.0"/><circle cx="201.2" cy="250.9" r="1.0"/><circle cx="201.7" cy="254.8" r="1.0"/><circle cx="202.0" cy="255.4" r="1.0"/><circle cx="202.5" cy="253.2" r="1.0"/><circle cx="202.9" cy="252.3" r="1.0"/><circle cx="203.3" cy="252.0" r="1.0"/><circle cx="204.0" cy="257.2" r="1.0"/><circle cx="204.6" cy="252.6" r="1.0"/><circle cx="204.7" cy="254.8" r="1.0"/><circle cx="205.4" cy="259.5" r="1.0"/><circle cx="205.8" cy="252.3" r="1.0"/><circle cx="207.2" cy="261.4" r="1.0"/><circle cx="207.6" cy="262.6" r="1.0"/><circle cx="208.0" cy="259.9" r="1.0"/><circle cx="208.4" cy="266.0" r="1.0"/><circle cx="208.8" cy="261.6" r="1.0"/><circle cx="209.2" cy="267.6" r="1.0"/><circle cx="209.9" cy="268.0" r="1.0"/><circle cx="209.2" cy="269.0" r="1.0"/><circle cx="209.5" cy="270.7" r="1.0"/><circle cx="210.2" cy="271.3" r="1.0"/><circle cx="210.5" cy="270.4" r="1.0"/><circle cx="211.2" cy="272.8" r="1.0"/><circle cx="211.4" cy="274.1" r="1.0"/><circle cx="212.0" cy="277.4" r="1.0"/><circle cx="212.3" cy="275.3" r="1.0"/><circle cx="212.9" cy="274.3" r="1.0"/><circle cx="213.3" cy="273.4" r="1.0"/><circle cx="213.9" cy="275.7" r="1.0"/><circle cx="214.4" cy="262.4" r="1.0"/><circle cx="214.6" cy="265.0" r="1.0"/><circle cx="215.3" cy="263.2" r="1.0"/><circle cx="215.6" cy="264.4" r="1.0"/><circle cx="215.8" cy="265.7" r="1.0"/><circle cx="216.4" cy="267.8" r="1.0"/><circle cx="216.9" cy="265.9" r="1.0"/><circle cx="217.5" cy="264.9" r="1.0"/><circle cx="217.7" cy="269.2" r="1.0"/><circle cx="218.3" cy="259.3" r="1.0"/><circle cx="218.8" cy="259.7" r="1.0"/><circle cx="219.0" cy="257.7" r="1.0"/><circle cx="219.4" cy="253.6" r="1.0"/><circle cx="219.7" cy="251.9" r="1.0"/><circle cx="220.2" cy="251.9" r="1.0"/><circle cx="220.5" cy="251.3" r="1.0"/><circle cx="220.9" cy="258.2" r="1.0"/><circle cx="221.6" cy="255.8" r="1.0"/><circle cx="221.7" cy="258.9" r="1.0"/><circle cx="222.2" cy="254.9" r="1.0"/><circle cx="222.8" cy="253.7" r="1.0"/><circle cx="223.2" cy="252.4" r="1.0"/><circle cx="223.5" cy="258.4" r="1.0"/><circle cx="224.0" cy="252.2" r="1.0"/><circle cx="224.4" cy="256.7" r="1.0"/><circle cx="224.6" cy="251.6" r="1.0"/><circle cx="225.2" cy="251.9" r="1.0"/><circle cx="225.6" cy="258.7" r="1.0"/><circle cx="226.2" cy="250.3" r="1.0"/><circle cx="226.4" cy="252.1" r="1.0"/><circle cx="227.0" cy="260.3" r="1.0"/><circle cx="227.0" cy="251.5" r="1.0"/><circle cx="227.5" cy="259.8" r="1.0"/><circle cx="227.9" cy="251.4" r="1.0"/><circle cx="228.3" cy="256.3" r="1.0"/><circle cx="228.8" cy="262.5" r="1.0"/><circle cx="229.0" cy="255.1" r="1.0"/><circle cx="229.6" cy="255.8" r="1.0"/><circle cx="229.9" cy="259.6" r="1.0"/><circle cx="230.1" cy="253.9" r="1.0"/><circle cx="230.7" cy="256.2" r="1.0"/><circle cx="230.9" cy="254.4" r="1.0"/><circle cx="231.3" cy="255.5" r="1.0"/><circle cx="231.6" cy="259.6" r="1.0"/><circle cx="232.0" cy="258.7" r="1.0"/><circle cx="232.6" cy="259.6" r="1.0"/><circle cx="232.7" cy="253.5" r="1.0"/><circle cx="233.1" cy="272.0" r="1.0"/><circle cx="233.6" cy="268.4" r="1.0"/><circle cx="233.8" cy="268.7" r="1.0"/><circle cx="234.5" cy="270.9" r="1.0"/><circle cx="235.0" cy="278.1" r="1.0"/><circle cx="235.2" cy="274.3" r="1.0"/><circle cx="235.5" cy="267.7" r="1.0"/><circle cx="235.9" cy="267.0" r="1.0"/><circle cx="236.4" cy="274.5" r="1.0"/><circle cx="236.7" cy="270.7" r="1.0"/><circle cx="237.3" cy="277.1" r="1.0"/><circle cx="237.9" cy="275.6" r="1.0"/><circle cx="238.3" cy="279.3" r="1.0"/><circle cx="238.8" cy="273.5" r="1.0"/><circle cx="239.1" cy="273.9" r="1.0"/><circle cx="239.6" cy="272.1" r="1.0"/><circle cx="239.7" cy="276.0" r="1.0"/><circle cx="240.4" cy="282.3" r="1.0"/><circle cx="240.8" cy="281.2" r="1.0"/><circle cx="241.7" cy="282.0" r="1.0"/><circle cx="242.2" cy="281.8" r="1.0"/><circle cx="242.8" cy="283.4" r="1.0"/><circle cx="243.0" cy="281.5" r="1.0"/><circle cx="243.6" cy="269.3" r="1.0"/><circle cx="243.9" cy="265.6" r="1.0"/><circle cx="244.2" cy="277.8" r="1.0"/><circle cx="244.4" cy="277.5" r="1.0"/><circle cx="244.7" cy="273.3" r="1.0"/><circle cx="245.0" cy="270.6" r="1.0"/><circle cx="245.4" cy="264.6" r="1.0"/><circle cx="245.8" cy="270.9" r="1.0"/><circle cx="245.8" cy="269.8" r="1.0"/><circle cx="246.3" cy="269.5" r="1.0"/><circle cx="246.5" cy="264.1" r="1.0"/><circle cx="246.9" cy="272.0" r="1.0"/><circle cx="247.1" cy="276.8" r="1.0"/><circle cx="247.4" cy="274.9" r="1.0"/><circle cx="247.7" cy="271.1" r="1.0"/><circle cx="248.0" cy="276.1" r="1.0"/><circle cx="248.2" cy="264.8" r="1.0"/><circle cx="248.5" cy="274.8" r="1.0"/><circle cx="248.9" cy="263.2" r="1.0"/><circle cx="249.1" cy="273.5" r="1.0"/><circle cx="249.4" cy="281.0" r="1.0"/><circle cx="249.5" cy="269.2" r="1.0"/><circle cx="250.0" cy="261.1" r="1.0"/><circle cx="250.6" cy="266.3" r="1.0"/><circle cx="250.9" cy="265.4" r="1.0"/><circle cx="251.3" cy="267.9" r="1.0"/><circle cx="251.4" cy="267.8" r="1.0"/><circle cx="252.0" cy="264.0" r="1.0"/><circle cx="252.1" cy="270.4" r="1.0"/><circle cx="252.7" cy="269.0" r="1.0"/><circle cx="252.9" cy="273.5" r="1.0"/><circle cx="253.3" cy="272.5" r="1.0"/><circle cx="183.0" cy="243.4" r="1.0"/><circle cx="196.5" cy="242.5" r="1.0"/><circle cx="217.2" cy="287.2" r="1.0"/><circle cx="229.9" cy="290.6" r="1.0"/><circle cx="241.4" cy="291.6" r="1.0"/><circle cx="243.4" cy="293.6" r="1.0"/><circle cx="85.4" cy="271.5" r="1.0"/><circle cx="57.0" cy="272.0" r="1.0"/><circle cx="44.0" cy="273.5" r="1.0"/><circle cx="54.4" cy="240.5" r="1.0"/><circle cx="68.5" cy="241.8" r="1.0"/><circle cx="90.7" cy="242.5" r="1.0"/><circle cx="155.8" cy="245.1" r="1.0"/><circle cx="223.2" cy="249.2" r="1.0"/><circle cx="232.3" cy="251.2" r="1.0"/></g>
<g fill="#ff0000"><circle cx="308.8" cy="255.2" r="1.0"/><circle cx="309.0" cy="254.0" r="1.0"/><circle cx="309.3" cy="254.6" r="1.0"/><circle cx="309.5" cy="257.1" r="1.0"/><circle cx="309.8" cy="256.3" r="1.0"/><circle cx="310.2" cy="260.7" r="1.0"/><circle cx="310.5" cy="260.0" r="1.0"/><circle cx="310.9" cy="263.4" r="1.0"/><circle cx="311.4" cy="253.0" r="1.0"/><circle cx="311.6" cy="254.8" r="1.0"/><circle cx="312.0" cy="248.9" r="1.0"/><circle cx="312.5" cy="254.6" r="1.0"/><circle cx="312.9" cy="252.5" r="1.0"/><circle cx="313.4" cy="253.4" r="1.0"/><circle cx="313.5" cy="252.5" r="1.0"/><circle cx="314.1" cy="259.0" r="1.0"/><circle cx="314.4" cy="254.5" r="1.0"/><circle cx="315.0" cy="257.7" r="1.0"/><circle cx="315.2" cy="253.0" r="1.0"/><circle cx="315.9" cy="252.6" r="1.0"/><circle cx="316.2" cy="258.7" r="1.0"/><circle cx="316.4" cy="260.2" r="1.0"/><circle cx="316.8" cy="258.5" r="1.0"/><circle cx="317.5" cy="262.5" r="1.0"/><circle cx="317.9" cy="259.0" r="1.0"/><circle cx="318.1" cy="267.6" r="1.0"/><circle cx="318.3" cy="269.5" r="1.0"/><circle cx="318.4" cy="269.9" r="1.0"/><circle cx="318.6" cy="273.3" r="1.0"/><circle cx="318.7" cy="272.7" r="1.0"/><circle cx="318.8" cy="275.2" r="1.0"/><circle cx="319.0" cy="276.6" r="1.0"/><circle cx="319.1" cy="278.0" r="1.0"/><circle cx="320.4" cy="248.5" r="1.0"/><circle cx="320.9" cy="252.2" r="1.0"/><circle cx="321.2" cy="250.0" r="1.0"/><circle cx="322.0" cy="250.6" r="1.0"/><circle cx="322.2" cy="251.9" r="1.0"/><circle cx="322.9" cy="252.6" r="1.0"/><circle cx="323.7" cy="249.8" r="1.0"/><circle cx="324.1" cy="253.2" r="1.0"/><circle cx="324.2" cy="251.0" r="1.0"/><circle cx="324.7" cy="244.1" r="1.0"/><circle cx="324.9" cy="255.1" r="1.0"/><circle cx="325.3" cy="252.7" r="1.0"/><circle cx="325.8" cy="247.7" r="1.0"/><circle cx="326.3" cy="250.1" r="1.0"/><circle cx="326.6" cy="249.9" r="1.0"/><circle cx="326.9" cy="256.7" r="1.0"/><circle cx="327.5" cy="252.3" r="1.0"/><circle cx="327.9" cy="252.2" r="1.0"/><circle cx="328.1" cy="249.4" r="1.0"/><circle cx="328.5" cy="255.3" r="1.0"/><circle cx="329.0" cy="255.6" r="1.0"/><circle cx="329.4" cy="252.3" r="1.0"/><circle cx="329.6" cy="250.1" r="1.0"/><circle cx="330.1" cy="254.8" r="1.0"/><circle cx="330.6" cy="248.6" r="1.0"/><circle cx="331.0" cy="252.3" r="1.0"/><circle cx="331.5" cy="249.5" r="1.0"/><circle cx="332.0" cy="255.9" r="1.0"/><circle cx="332.1" cy="251.9" r="1.0"/><circle cx="332.5" cy="257.5" r="1.0"/><circle cx="333.0" cy="255.7" r="1.0"/><circle cx="333.3" cy="250.5" r="1.0"/><circle cx="333.7" cy="256.9" r="1.0"/><circle cx="334.4" cy="251.9" r="1.0"/><circle cx="334.5" cy="255.9" r="1.0"/><circle cx="335.0" cy="253.9" r="1.0"/><circle cx="335.5" cy="254.0" r="1.0"/><circle cx="335.8" cy="252.6" r="1.0"/><circle cx="336.3" cy="250.8" r="1.0"/><circle cx="336.6" cy="250.6" r="1.0"/><circle cx="337.1" cy="252.2" r="1.0"/><circle cx="337.3" cy="255.2" r="1.0"/><circle cx="337.7" cy="255.2" r="1.0"/><circle cx="338.4" cy="259.8" r="1.0"/><circle cx="338.7" cy="258.6" r="1.0"/><circle cx="338.8" cy="253.5" r="1.0"/><circle cx="339.4" cy="250.6" r="1.0"/><circle cx="339.8" cy="250.7" r="1.0"/><circle cx="340.3" cy="257.6" r="1.0"/><circle cx="340.6" cy="252.8" r="1.0"/><circle cx="341.0" cy="254.5" r="1.0"/><circle cx="341.5" cy="258.5" r="1.0"/><circle cx="341.8" cy="255.7" r="1.0"/><circle cx="342.2" cy="262.5" r="1.0"/><circle cx="342.6" cy="252.8" r="1.0"/><circle cx="343.1" cy="256.1" r="1.0"/><circle cx="343.2" cy="256.7" r="1.0"/><circle cx="344.0" cy="259.9" r="1.0"/><circle cx="344.1" cy="259.4" r="1.0"/><circle cx="344.7" cy="259.5" r="1.0"/><circle cx="345.1" cy="261.0" r="1.0"/><circle cx="345.3" cy="266.2" r="1.0"/><circle cx="345.8" cy="268.5" r="1.0"/><circle cx="346.4" cy="267.2" r="1.0"/><circle cx="346.6" cy="271.6" r="1.0"/><circle cx="347.0" cy="264.2" r="1.0"/><circle cx="347.7" cy="266.5" r="1.0"/><circle cx="348.2" cy="264.8" r="1.0"/><circle cx="348.5" cy="264.8" r="1.0"/><circle cx="348.9" cy="273.8" r="1.0"/><circle cx="349.3" cy="268.6" r="1.0"/><circle cx="349.3" cy="267.8" r="1.0"/><circle cx="349.8" cy="266.2" r="1.0"/><circle cx="350.2" cy="263.3" r="1.0"/><circle cx="350.4" cy="270.2" r="1.0"/><circle cx="350.7" cy="269.7" r="1.0"/><circle cx="351.0" cy="259.4" r="1.0"/><circle cx="351.4" cy="258.6" r="1.0"/><circle cx="351.6" cy="258.8" r="1.0"/><circle cx="352.0" cy="257.3" r="1.0"/><circle cx="352.2" cy="262.3" r="1.0"/><circle cx="352.6" cy="268.2" r="1.0"/><circle cx="352.7" cy="267.9" r="1.0"/><circle cx="353.1" cy="267.6" r="1.0"/><circle cx="353.3" cy="263.7" r="1.0"/><circle cx="353.7" cy="267.1" r="1.0"/><circle cx="354.1" cy="268.5" r="1.0"/><circle cx="354.2" cy="255.5" r="1.0"/><circle cx="354.6" cy="261.9" r="1.0"/><circle cx="354.9" cy="268.1" r="1.0"/><circle cx="355.2" cy="272.0" r="1.0"/><circle cx="355.6" cy="270.9" r="1.0"/><circle cx="355.9" cy="271.8" r="1.0"/><circle cx="356.3" cy="274.1" r="1.0"/><circle cx="356.4" cy="263.5" r="1.0"/><circle cx="356.7" cy="274.1" r="1.0"/><circle cx="357.0" cy="264.0" r="1.0"/><circle cx="357.5" cy="267.7" r="1.0"/><circle cx="357.6" cy="262.0" r="1.0"/><circle cx="358.0" cy="275.3" r="1.0"/><circle cx="358.1" cy="265.6" r="1.0"/><circle cx="358.6" cy="271.1" r="1.0"/><circle cx="359.0" cy="264.6" r="1.0"/><circle cx="359.3" cy="262.0" r="1.0"/><circle cx="359.4" cy="260.6" r="1.0"/><circle cx="360.0" cy="263.9" r="1.0"/><circle cx="360.4" cy="265.8" r="1.0"/><circle cx="360.7" cy="266.7" r="1.0"/><circle cx="361.3" cy="265.7" r="1.0"/><circle cx="361.7" cy="259.4" r="1.0"/><circle cx="362.1" cy="266.1" r="1.0"/><circle cx="362.6" cy="265.6" r="1.0"/><circle cx="362.7" cy="263.9" r="1.0"/><circle cx="363.2" cy="267.4" r="1.0"/><circle cx="363.6" cy="267.4" r="1.0"/><circle cx="364.0" cy="265.9" r="1.0"/><circle cx="364.3" cy="260.7" r="1.0"/><circle cx="364.6" cy="263.1" r="1.0"/><circle cx="360.2" cy="272.9" r="1.0"/><circle cx="360.8" cy="271.7" r="1.0"/><circle cx="361.0" cy="268.4" r="1.0"/><circle cx="361.6" cy="268.0" r="1.0"/><circle cx="362.1" cy="265.7" r="1.0"/><circle cx="362.2" cy="266.7" r="1.0"/><circle cx="363.0" cy="265.1" r="1.0"/><circle cx="363.4" cy="264.5" r="1.0"/><circle cx="363.8" cy="262.6" r="1.0"/><circle cx="364.1" cy="256.2" r="1.0"/><circle cx="364.5" cy="254.0" r="1.0"/><circle cx="364.7" cy="257.6" r="1.0"/><circle cx="365.0" cy="254.4" r="1.0"/><circle cx="365.4" cy="259.4" r="1.0"/><circle cx="365.7" cy="260.2" r="1.0"/><circle cx="366.2" cy="259.8" r="1.0"/><circle cx="366.7" cy="258.7" r="1.0"/><circle cx="367.1" cy="263.4" r="1.0"/><circle cx="367.2" cy="257.4" r="1.0"/><circle cx="367.8" cy="261.3" r="1.0"/><circle cx="368.1" cy="256.2" r="1.0"/><circle cx="368.4" cy="250.8" r="1.0"/><circle cx="368.9" cy="262.2" r="1.0"/><circle cx="369.1" cy="256.2" r="1.0"/><circle cx="369.4" cy="251.2" r="1.0"/><circle cx="370.0" cy="261.5" r="1.0"/><circle cx="370.2" cy="262.9" r="1.0"/><circle cx="370.7" cy="253.7" r="1.0"/><circle cx="371.0" cy="256.3" r="1.0"/><circle cx="371.4" cy="253.0" r="1.0"/><circle cx="371.5" cy="257.2" r="1.0"/><circle cx="372.2" cy="261.9" r="1.0"/><circle cx="372.3" cy="255.9" r="1.0"/><circle cx="372.8" cy="254.3" r="1.0"/><circle cx="373.0" cy="253.4" r="1.0"/><circle cx="373.6" cy="250.0" r="1.0"/><circle cx="373.9" cy="250.1" r="1.0"/><circle cx="374.1" cy="261.7" r="1.0"/><circle cx="374.4" cy="257.1" r="1.0"/><circle cx="374.9" cy="252.4" r="1.0"/><circle cx="375.3" cy="251.4" r="1.0"/><circle cx="375.4" cy="254.1" r="1.0"/><circle cx="375.7" cy="252.3" r="1.0"/><circle cx="376.3" cy="255.9" r="1.0"/><circle cx="376.6" cy="251.4" r="1.0"/><circle cx="376.7" cy="261.4" r="1.0"/><circle cx="377.2" cy="262.2" r="1.0"/><circle cx="377.3" cy="255.4" r="1.0"/><circle cx="377.7" cy="262.8" r="1.0"/><circle cx="378.3" cy="256.8" r="1.0"/><circle cx="378.6" cy="259.4" r="1.0"/><circle cx="378.8" cy="253.0" r="1.0"/><circle cx="379.2" cy="252.4" r="1.0"/><circle cx="379.7" cy="258.4" r="1.0"/><circle cx="379.7" cy="256.9" r="1.0"/><circle cx="380.3" cy="253.0" r="1.0"/><circle cx="380.5" cy="259.3" r="1.0"/><circle cx="381.0" cy="255.8" r="1.0"/><circle cx="381.1" cy="258.0" r="1.0"/><circle cx="381.4" cy="252.1" r="1.0"/><circle cx="381.8" cy="256.4" r="1.0"/><circle cx="382.0" cy="262.5" r="1.0"/><circle cx="382.6" cy="253.7" r="1.0"/><circle cx="382.9" cy="252.3" r="1.0"/><circle cx="383.1" cy="250.3" r="1.0"/><circle cx="383.4" cy="263.3" r="1.0"/><circle cx="384.0" cy="260.7" r="1.0"/><circle cx="384.3" cy="266.1" r="1.0"/><circle cx="384.3" cy="256.5" r="1.0"/><circle cx="384.8" cy="255.3" r="1.0"/><circle cx="385.2" cy="265.6" r="1.0"/><circle cx="385.5" cy="259.2" r="1.0"/><circle cx="385.9" cy="261.2" r="1.0"/><circle cx="386.3" cy="257.5" r="1.0"/><circle cx="386.5" cy="260.5" r="1.0"/><circle cx="387.0" cy="262.7" r="1.0"/><circle cx="387.3" cy="267.2" r="1.0"/><circle cx="387.6" cy="256.9" r="1.0"/><circle cx="387.9" cy="258.2" r="1.0"/><circle cx="388.3" cy="258.7" r="1.0"/><circle cx="388.4" cy="260.7" r="1.0"/><circle cx="389.0" cy="256.0" r="1.0"/><circle cx="389.2" cy="259.2" r="1.0"/><circle cx="389.6" cy="254.8" r="1.0"/><circle cx="389.9" cy="257.1" r="1.0"/><circle cx="390.5" cy="253.1" r="1.0"/><circle cx="390.7" cy="258.3" r="1.0"/><circle cx="391.2" cy="253.6" r="1.0"/><circle cx="391.5" cy="256.2" r="1.0"/><circle cx="391.9" cy="253.0" r="1.0"/><circle cx="392.3" cy="257.9" r="1.0"/><circle cx="392.5" cy="263.4" r="1.0"/><circle cx="392.8" cy="260.2" r="1.0"/><circle cx="393.1" cy="261.5" r="1.0"/><circle cx="393.7" cy="253.1" r="1.0"/><circle cx="394.0" cy="263.5" r="1.0"/><circle cx="394.5" cy="257.6" r="1.0"/><circle cx="394.8" cy="254.9" r="1.0"/><circle cx="395.2" cy="261.8" r="1.0"/><circle cx="395.3" cy="256.9" r="1.0"/><circle cx="395.7" cy="262.0" r="1.0"/><circle cx="396.1" cy="258.7" r="1.0"/><circle cx="396.6" cy="253.9" r="1.0"/><circle cx="397.1" cy="264.2" r="1.0"/><circle cx="397.3" cy="250.7" r="1.0"/><circle cx="397.6" cy="257.5" r="1.0"/><circle cx="398.0" cy="257.4" r="1.0"/><circle cx="398.5" cy="255.6" r="1.0"/><circle cx="398.6" cy="263.4" r="1.0"/><circle cx="399.1" cy="262.9" r="1.0"/><circle cx="399.4" cy="262.8" r="1.0"/><circle cx="399.7" cy="259.5" r="1.0"/><circle cx="400.1" cy="258.0" r="1.0"/><circle cx="400.7" cy="258.0" r="1.0"/><circle cx="401.1" cy="260.9" r="1.0"/><circle cx="401.4" cy="260.0" r="1.0"/><circle cx="401.8" cy="252.5" r="1.0"/><circle cx="402.2" cy="255.5" r="1.0"/><circle cx="402.7" cy="259.3" r="1.0"/><circle cx="402.9" cy="257.1" r="1.0"/><circle cx="403.4" cy="259.2" r="1.0"/><circle cx="403.8" cy="252.2" r="1.0"/><circle cx="404.2" cy="254.6" r="1.0"/><circle cx="404.7" cy="257.0" r="1.0"/><circle cx="405.0" cy="254.5" r="1.0"/><circle cx="405.5" cy="256.4" r="1.0"/><circle cx="405.6" cy="252.3" r="1.0"/><circle cx="406.1" cy="254.4" r="1.0"/><circle cx="406.5" cy="256.0" r="1.0"/><circle cx="406.9" cy="252.2" r="1.0"/><circle cx="407.2" cy="251.8" r="1.0"/><circle cx="407.8" cy="259.4" r="1.0"/><circle cx="408.4" cy="257.3" r="1.0"/><circle cx="408.7" cy="260.4" r="1.0"/><circle cx="409.1" cy="255.6" r="1.0"/><circle cx="409.6" cy="253.8" r="1.0"/><circle cx="409.8" cy="259.0" r="1.0"/><circle cx="410.2" cy="256.9" r="1.0"/><circle cx="410.5" cy="256.4" r="1.0"/><circle cx="410.8" cy="251.8" r="1.0"/><circle cx="411.4" cy="255.4" r="1.0"/><circle cx="411.6" cy="256.1" r="1.0"/><circle cx="412.2" cy="255.8" r="1.0"/><circle cx="412.4" cy="261.5" r="1.0"/><circle cx="413.1" cy="257.3" r="1.0"/><circle cx="413.3" cy="256.9" r="1.0"/><circle cx="413.8" cy="253.2" r="1.0"/><circle cx="414.1" cy="261.4" r="1.0"/><circle cx="414.8" cy="254.1" r="1.0"/><circle cx="415.1" cy="256.0" r="1.0"/><circle cx="415.5" cy="252.6" r="1.0"/><circle cx="415.8" cy="255.7" r="1.0"/><circle cx="416.1" cy="253.8" r="1.0"/><circle cx="416.5" cy="253.0" r="1.0"/><circle cx="416.9" cy="256.5" r="1.0"/><circle cx="417.6" cy="258.4" r="1.0"/><circle cx="417.7" cy="255.1" r="1.0"/><circle cx="418.1" cy="251.9" r="1.0"/><circle cx="418.4" cy="259.5" r="1.0"/><circle cx="418.9" cy="260.7" r="1.0"/><circle cx="419.5" cy="256.9" r="1.0"/><circle cx="419.7" cy="263.2" r="1.0"/><circle cx="420.3" cy="259.0" r="1.0"/><circle cx="420.7" cy="253.0" r="1.0"/><circle cx="421.0" cy="253.1" r="1.0"/><circle cx="421.5" cy="253.0" r="1.0"/><circle cx="421.6" cy="258.8" r="1.0"/><circle cx="422.1" cy="255.9" r="1.0"/><circle cx="422.5" cy="255.7" r="1.0"/><circle cx="423.0" cy="256.4" r="1.0"/><circle cx="423.6" cy="257.4" r="1.0"/><circle cx="423.8" cy="257.5" r="1.0"/><circle cx="424.3" cy="254.9" r="1.0"/><circle cx="424.5" cy="256.1" r="1.0"/><circle cx="425.2" cy="255.7" r="1.0"/><circle cx="425.5" cy="254.8" r="1.0"/><circle cx="425.7" cy="259.1" r="1.0"/><circle cx="426.2" cy="251.9" r="1.0"/><circle cx="426.5" cy="255.2" r="1.0"/><circle cx="426.9" cy="254.4" r="1.0"/><circle cx="427.5" cy="258.5" r="1.0"/><circle cx="427.6" cy="254.5" r="1.0"/><circle cx="428.2" cy="260.4" r="1.0"/><circle cx="428.4" cy="260.4" r="1.0"/><circle cx="429.1" cy="262.6" r="1.0"/><circle cx="429.4" cy="252.1" r="1.0"/><circle cx="429.9" cy="262.2" r="1.0"/><circle cx="430.4" cy="253.7" r="1.0"/><circle cx="430.5" cy="258.7" r="1.0"/><circle cx="431.0" cy="255.9" r="1.0"/><circle cx="431.3" cy="257.5" r="1.0"/><circle cx="431.7" cy="256.0" r="1.0"/><circle cx="432.0" cy="251.5" r="1.0"/><circle cx="432.7" cy="255.6" r="1.0"/><circle cx="433.0" cy="256.2" r="1.0"/><circle cx="433.3" cy="255.0" r="1.0"/><circle cx="433.5" cy="250.5" r="1.0"/><circle cx="434.0" cy="253.0" r="1.0"/><circle cx="434.2" cy="249.5" r="1.0"/><circle cx="434.6" cy="254.1" r="1.0"/><circle cx="435.1" cy="249.6" r="1.0"/><circle cx="435.3" cy="254.8" r="1.0"/><circle cx="435.7" cy="253.1" r="1.0"/><circle cx="436.2" cy="246.8" r="1.0"/><circle cx="436.5" cy="256.0" r="1.0"/><circle cx="436.7" cy="250.7" r="1.0"/><circle cx="437.1" cy="254.2" r="1.0"/><circle cx="437.6" cy="250.4" r="1.0"/><circle cx="438.0" cy="248.4" r="1.0"/><circle cx="438.3" cy="254.5" r="1.0"/><circle cx="438.6" cy="248.4" r="1.0"/><circle cx="439.1" cy="253.2" r="1.0"/><circle cx="439.3" cy="246.8" r="1.0"/><circle cx="439.8" cy="245.0" r="1.0"/><circle cx="440.3" cy="248.2" r="1.0"/><circle cx="440.4" cy="247.8" r="1.0"/><circle cx="440.7" cy="251.7" r="1.0"/><circle cx="441.2" cy="247.9" r="1.0"/><circle cx="441.4" cy="253.2" r="1.0"/><circle cx="441.8" cy="258.3" r="1.0"/><circle cx="442.1" cy="250.3" r="1.0"/><circle cx="442.6" cy="257.9" r="1.0"/><circle cx="442.7" cy="255.2" r="1.0"/><circle cx="443.0" cy="262.6" r="1.0"/><circle cx="443.6" cy="253.2" r="1.0"/><circle cx="443.9" cy="250.6" r="1.0"/><circle cx="444.3" cy="256.7" r="1.0"/><circle cx="444.6" cy="259.8" r="1.0"/><circle cx="444.7" cy="258.7" r="1.0"/><circle cx="445.2" cy="254.9" r="1.0"/><circle cx="445.6" cy="256.6" r="1.0"/><circle cx="445.9" cy="256.9" r="1.0"/><circle cx="446.2" cy="258.7" r="1.0"/><circle cx="446.4" cy="259.3" r="1.0"/><circle cx="446.7" cy="255.4" r="1.0"/><circle cx="447.1" cy="250.9" r="1.0"/><circle cx="447.6" cy="257.9" r="1.0"/><circle cx="447.8" cy="262.4" r="1.0"/><circle cx="448.2" cy="260.5" r="1.0"/><circle cx="448.4" cy="251.4" r="1.0"/><circle cx="448.9" cy="256.9" r="1.0"/><circle cx="449.3" cy="260.5" r="1.0"/><circle cx="449.6" cy="255.0" r="1.0"/><circle cx="449.7" cy="261.7" r="1.0"/><circle cx="449.2" cy="255.6" r="1.0"/><circle cx="449.4" cy="260.4" r="1.0"/><circle cx="449.8" cy="260.1" r="1.0"/><circle cx="450.4" cy="260.8" r="1.0"/><circle cx="450.5" cy="263.7" r="1.0"/><circle cx="450.8" cy="262.0" r="1.0"/><circle cx="451.5" cy="261.9" r="1.0"/><circle cx="451.6" cy="261.4" r="1.0"/><circle cx="452.0" cy="260.7" r="1.0"/><circle cx="452.6" cy="261.4" r="1.0"/><circle cx="452.8" cy="267.2" r="1.0"/><circle cx="453.1" cy="256.5" r="1.0"/><circle cx="453.6" cy="264.2" r="1.0"/><circle cx="453.7" cy="266.2" r="1.0"/><circle cx="454.2" cy="258.7" r="1.0"/><circle cx="454.5" cy="256.3" r="1.0"/><circle cx="455.0" cy="262.9" r="1.0"/><circle cx="455.4" cy="268.3" r="1.0"/><circle cx="455.7" cy="257.3" r="1.0"/><circle cx="456.0" cy="261.3" r="1.0"/><circle cx="456.3" cy="260.4" r="1.0"/><circle cx="456.8" cy="265.6" r="1.0"/><circle cx="457.3" cy="261.9" r="1.0"/><circle cx="457.7" cy="263.4" r="1.0"/><circle cx="458.0" cy="264.4" r="1.0"/><circle cx="458.2" cy="261.2" r="1.0"/><circle cx="458.7" cy="260.4" r="1.0"/><circle cx="459.0" cy="262.8" r="1.0"/><circle cx="459.2" cy="259.4" r="1.0"/><circle cx="459.6" cy="256.5" r="1.0"/><circle cx="460.1" cy="271.0" r="1.0"/><circle cx="460.5" cy="266.9" r="1.0"/><circle cx="460.9" cy="256.5" r="1.0"/><circle cx="457.0" cy="255.8" r="1.0"/><circle cx="457.9" cy="258.0" r="1.0"/><circle cx="458.2" cy="250.9" r="1.0"/><circle cx="458.4" cy="255.0" r="1.0"/><circle cx="458.9" cy="253.7" r="1.0"/><circle cx="459.7" cy="255.0" r="1.0"/><circle cx="460.0" cy="252.2" r="1.0"/><circle cx="460.4" cy="253.1" r="1.0"/><circle cx="461.0" cy="250.2" r="1.0"/><circle cx="461.5" cy="250.8" r="1.0"/><circle cx="461.8" cy="254.2" r="1.0"/><circle cx="462.5" cy="254.4" r="1.0"/><circle cx="462.8" cy="252.6" r="1.0"/><circle cx="463.5" cy="250.5" r="1.0"/><circle cx="463.9" cy="258.2" r="1.0"/><circle cx="460.1" cy="259.7" r="1.0"/><circle cx="460.4" cy="261.0" r="1.0"/><circle cx="460.9" cy="259.5" r="1.0"/><circle cx="461.3" cy="256.0" r="1.0"/><circle cx="461.4" cy="270.4" r="1.0"/><circle cx="461.7" cy="267.7" r="1.0"/><circle cx="462.1" cy="265.4" r="1.0"/><circle cx="462.5" cy="264.8" r="1.0"/><circle cx="462.9" cy="259.6" r="1.0"/><circle cx="463.0" cy="271.2" r="1.0"/><circle cx="463.4" cy="271.2" r="1.0"/><circle cx="463.8" cy="267.0" r="1.0"/><circle cx="464.1" cy="263.9" r="1.0"/><circle cx="464.4" cy="273.4" r="1.0"/><circle cx="465.0" cy="271.0" r="1.0"/><circle cx="465.0" cy="268.1" r="1.0"/><circle cx="465.4" cy="264.1" r="1.0"/><circle cx="465.9" cy="262.5" r="1.0"/><circle cx="466.1" cy="271.2" r="1.0"/><circle cx="466.4" cy="273.5" r="1.0"/><circle cx="466.7" cy="267.6" r="1.0"/><circle cx="467.1" cy="266.1" r="1.0"/><circle cx="467.4" cy="270.4" r="1.0"/><circle cx="467.8" cy="267.2" r="1.0"/><circle cx="468.2" cy="263.0" r="1.0"/><circle cx="468.4" cy="255.2" r="1.0"/><circle cx="469.0" cy="262.9" r="1.0"/><circle cx="469.0" cy="257.9" r="1.0"/><circle cx="469.5" cy="255.3" r="1.0"/><circle cx="469.8" cy="263.6" r="1.0"/><circle cx="470.2" cy="265.4" r="1.0"/><circle cx="470.6" cy="261.0" r="1.0"/><circle cx="470.7" cy="265.4" r="1.0"/><circle cx="471.2" cy="261.7" r="1.0"/><circle cx="471.4" cy="255.5" r="1.0"/><circle cx="471.8" cy="264.0" r="1.0"/><circle cx="472.3" cy="259.6" r="1.0"/><circle cx="472.6" cy="263.8" r="1.0"/><circle cx="472.8" cy="261.2" r="1.0"/><circle cx="473.1" cy="263.6" r="1.0"/><circle cx="473.5" cy="259.4" r="1.0"/><circle cx="473.8" cy="267.6" r="1.0"/><circle cx="474.2" cy="259.5" r="1.0"/><circle cx="474.5" cy="255.8" r="1.0"/><circle cx="474.9" cy="256.3" r="1.0"/><circle cx="475.2" cy="261.2" r="1.0"/><circle cx="475.6" cy="262.3" r="1.0"/><circle cx="475.8" cy="258.1" r="1.0"/><circle cx="476.2" cy="259.7" r="1.0"/><circle cx="476.4" cy="269.4" r="1.0"/><circle cx="476.7" cy="261.5" r="1.0"/><circle cx="477.0" cy="255.1" r="1.0"/><circle cx="477.4" cy="260.7" r="1.0"/><circle cx="478.0" cy="259.5" r="1.0"/><circle cx="478.0" cy="265.4" r="1.0"/><circle cx="478.6" cy="269.5" r="1.0"/><circle cx="478.8" cy="263.6" r="1.0"/><circle cx="479.1" cy="256.0" r="1.0"/><circle cx="479.5" cy="250.8" r="1.0"/><circle cx="480.2" cy="251.8" r="1.0"/><circle cx="480.4" cy="250.7" r="1.0"/><circle cx="481.0" cy="259.0" r="1.0"/><circle cx="481.2" cy="257.3" r="1.0"/><circle cx="481.7" cy="255.0" r="1.0"/><circle cx="482.1" cy="255.0" r="1.0"/><circle cx="482.6" cy="257.3" r="1.0"/><circle cx="483.0" cy="256.4" r="1.0"/><circle cx="483.2" cy="254.5" r="1.0"/><circle cx="483.9" cy="255.1" r="1.0"/><circle cx="484.1" cy="242.6" r="1.0"/><circle cx="484.4" cy="257.4" r="1.0"/><circle cx="484.5" cy="253.5" r="1.0"/><circle cx="484.7" cy="251.1" r="1.0"/><circle cx="485.0" cy="248.1" r="1.0"/><circle cx="485.2" cy="263.4" r="1.0"/><circle cx="485.5" cy="250.4" r="1.0"/><circle cx="485.7" cy="257.4" r="1.0"/><circle cx="485.9" cy="244.3" r="1.0"/><circle cx="486.1" cy="260.1" r="1.0"/><circle cx="486.4" cy="246.4" r="1.0"/><circle cx="486.7" cy="262.6" r="1.0"/><circle cx="486.9" cy="246.5" r="1.0"/><circle cx="487.0" cy="259.0" r="1.0"/><circle cx="487.3" cy="259.1" r="1.0"/><circle cx="487.6" cy="250.1" r="1.0"/><circle cx="487.7" cy="250.5" r="1.0"/><circle cx="488.0" cy="272.7" r="1.0"/><circle cx="488.2" cy="255.2" r="1.0"/><circle cx="488.5" cy="254.6" r="1.0"/><circle cx="488.7" cy="254.5" r="1.0"/><circle cx="488.8" cy="255.9" r="1.0"/><circle cx="489.1" cy="257.8" r="1.0"/><circle cx="489.3" cy="257.8" r="1.0"/><circle cx="489.6" cy="266.9" r="1.0"/><circle cx="489.8" cy="255.0" r="1.0"/><circle cx="490.1" cy="248.2" r="1.0"/><circle cx="490.2" cy="265.6" r="1.0"/><circle cx="490.6" cy="257.6" r="1.0"/><circle cx="490.8" cy="267.2" r="1.0"/><circle cx="491.0" cy="263.5" r="1.0"/><circle cx="491.2" cy="258.6" r="1.0"/><circle cx="491.4" cy="269.2" r="1.0"/><circle cx="491.7" cy="269.1" r="1.0"/><circle cx="492.0" cy="253.0" r="1.0"/><circle cx="492.1" cy="267.5" r="1.0"/><circle cx="492.3" cy="263.5" r="1.0"/><circle cx="492.6" cy="244.0" r="1.0"/><circle cx="492.8" cy="264.6" r="1.0"/><circle cx="493.0" cy="254.2" r="1.0"/><circle cx="493.3" cy="258.7" r="1.0"/><circle cx="493.5" cy="256.7" r="1.0"/><circle cx="493.6" cy="269.5" r="1.0"/><circle cx="493.9" cy="269.8" r="1.0"/><circle cx="494.1" cy="265.5" r="1.0"/><circle cx="494.4" cy="254.1" r="1.0"/><circle cx="494.7" cy="267.4" r="1.0"/><circle cx="494.9" cy="255.3" r="1.0"/><circle cx="495.2" cy="255.8" r="1.0"/><circle cx="495.4" cy="246.6" r="1.0"/><circle cx="495.9" cy="255.1" r="1.0"/><circle cx="496.2" cy="254.3" r="1.0"/><circle cx="496.4" cy="250.0" r="1.0"/><circle cx="496.6" cy="256.5" r="1.0"/><circle cx="497.2" cy="251.1" r="1.0"/><circle cx="497.3" cy="250.8" r="1.0"/><circle cx="497.7" cy="257.1" r="1.0"/><circle cx="498.0" cy="256.5" r="1.0"/><circle cx="498.4" cy="256.7" r="1.0"/><circle cx="498.5" cy="241.8" r="1.0"/><circle cx="498.8" cy="251.9" r="1.0"/><circle cx="499.3" cy="252.9" r="1.0"/><circle cx="499.6" cy="245.6" r="1.0"/><circle cx="499.8" cy="252.8" r="1.0"/><circle cx="500.2" cy="249.1" r="1.0"/><circle cx="500.4" cy="255.2" r="1.0"/><circle cx="500.8" cy="242.5" r="1.0"/><circle cx="501.3" cy="250.4" r="1.0"/><circle cx="501.4" cy="253.5" r="1.0"/><circle cx="501.7" cy="253.2" r="1.0"/><circle cx="502.3" cy="252.2" r="1.0"/><circle cx="502.5" cy="248.7" r="1.0"/><circle cx="502.9" cy="248.9" r="1.0"/><circle cx="503.0" cy="251.6" r="1.0"/><circle cx="503.5" cy="242.0" r="1.0"/><circle cx="503.7" cy="245.8" r="1.0"/><circle cx="504.3" cy="247.8" r="1.0"/><circle cx="504.6" cy="247.1" r="1.0"/><circle cx="504.7" cy="251.8" r="1.0"/><circle cx="505.2" cy="252.6" r="1.0"/><circle cx="505.4" cy="247.1" r="1.0"/><circle cx="505.8" cy="248.7" r="1.0"/><circle cx="506.3" cy="242.6" r="1.0"/><circle cx="506.6" cy="250.9" r="1.0"/><circle cx="506.9" cy="248.5" r="1.0"/><circle cx="507.1" cy="250.5" r="1.0"/><circle cx="507.4" cy="253.1" r="1.0"/><circle cx="507.9" cy="251.7" r="1.0"/><circle cx="508.1" cy="247.0" r="1.0"/><circle cx="508.7" cy="253.1" r="1.0"/><circle cx="508.9" cy="249.7" r="1.0"/><circle cx="509.0" cy="253.3" r="1.0"/><circle cx="509.5" cy="246.2" r="1.0"/><circle cx="509.7" cy="245.9" r="1.0"/><circle cx="510.1" cy="251.5" r="1.0"/><circle cx="510.6" cy="252.2" r="1.0"/><circle cx="510.8" cy="253.2" r="1.0"/><circle cx="511.0" cy="246.0" r="1.0"/><circle cx="511.6" cy="249.6" r="1.0"/><circle cx="511.9" cy="254.9" r="1.0"/><circle cx="514.2" cy="261.8" r="1.0"/><circle cx="514.5" cy="259.5" r="1.0"/><circle cx="514.7" cy="265.5" r="1.0"/><circle cx="515.3" cy="265.8" r="1.0"/><circle cx="515.7" cy="257.1" r="1.0"/><circle cx="515.8" cy="263.5" r="1.0"/><circle cx="516.2" cy="255.7" r="1.0"/><circle cx="516.6" cy="259.7" r="1.0"/><circle cx="517.1" cy="259.1" r="1.0"/><circle cx="517.4" cy="264.7" r="1.0"/><circle cx="517.6" cy="266.6" r="1.0"/><circle cx="518.0" cy="260.1" r="1.0"/><circle cx="518.6" cy="261.7" r="1.0"/><circle cx="519.0" cy="265.6" r="1.0"/><circle cx="519.1" cy="265.5" r="1.0"/><circle cx="519.5" cy="263.5" r="1.0"/><circle cx="519.9" cy="265.1" r="1.0"/><circle cx="520.2" cy="264.7" r="1.0"/><circle cx="520.5" cy="260.3" r="1.0"/><circle cx="521.1" cy="259.6" r="1.0"/><circle cx="521.3" cy="267.4" r="1.0"/><circle cx="521.7" cy="264.4" r="1.0"/><circle cx="522.0" cy="263.9" r="1.0"/><circle cx="522.3" cy="260.1" r="1.0"/><circle cx="522.6" cy="257.2" r="1.0"/><circle cx="523.2" cy="259.6" r="1.0"/><circle cx="523.4" cy="267.4" r="1.0"/><circle cx="523.8" cy="264.4" r="1.0"/><circle cx="524.3" cy="235.6" r="1.0"/><circle cx="524.5" cy="251.3" r="1.0"/><circle cx="524.8" cy="237.5" r="1.0"/><circle cx="524.9" cy="242.4" r="1.0"/><circle cx="525.3" cy="246.7" r="1.0"/><circle cx="525.7" cy="247.3" r="1.0"/><circle cx="525.8" cy="247.9" r="1.0"/><circle cx="526.2" cy="238.8" r="1.0"/><circle cx="526.5" cy="242.5" r="1.0"/><circle cx="526.7" cy="236.4" r="1.0"/><circle cx="527.1" cy="248.3" r="1.0"/><circle cx="527.2" cy="249.5" r="1.0"/><circle cx="527.5" cy="253.6" r="1.0"/><circle cx="528.0" cy="249.1" r="1.0"/><circle cx="528.2" cy="235.8" r="1.0"/><circle cx="528.3" cy="252.1" r="1.0"/><circle cx="528.7" cy="237.7" r="1.0"/><circle cx="529.1" cy="247.2" r="1.0"/><circle cx="529.4" cy="249.7" r="1.0"/><circle cx="529.7" cy="243.7" r="1.0"/><circle cx="529.9" cy="252.9" r="1.0"/><circle cx="525.2" cy="266.8" r="1.0"/><circle cx="525.3" cy="257.1" r="1.0"/><circle cx="525.8" cy="260.8" r="1.0"/><circle cx="525.9" cy="266.1" r="1.0"/><circle cx="526.2" cy="259.7" r="1.0"/><circle cx="526.5" cy="256.6" r="1.0"/><circle cx="526.8" cy="267.1" r="1.0"/><circle cx="527.1" cy="270.1" r="1.0"/><circle cx="527.3" cy="265.2" r="1.0"/><circle cx="527.7" cy="265.4" r="1.0"/><circle cx="527.9" cy="268.1" r="1.0"/><circle cx="528.2" cy="263.6" r="1.0"/><circle cx="528.4" cy="272.9" r="1.0"/><circle cx="528.7" cy="269.1" r="1.0"/><circle cx="529.2" cy="261.9" r="1.0"/><circle cx="529.5" cy="270.5" r="1.0"/><circle cx="529.7" cy="272.4" r="1.0"/><circle cx="530.1" cy="263.6" r="1.0"/><circle cx="530.2" cy="265.7" r="1.0"/><circle cx="530.5" cy="268.9" r="1.0"/><circle cx="530.7" cy="259.2" r="1.0"/><circle cx="530.7" cy="208.3" r="1.0"/><circle cx="531.2" cy="211.9" r="1.0"/><circle cx="531.3" cy="210.6" r="1.0"/><circle cx="532.0" cy="215.3" r="1.0"/><circle cx="532.4" cy="220.2" r="1.0"/><circle cx="530.7" cy="232.5" r="1.0"/><circle cx="530.8" cy="240.6" r="1.0"/><circle cx="531.0" cy="239.1" r="1.0"/><circle cx="531.3" cy="232.2" r="1.0"/><circle cx="531.5" cy="231.2" r="1.0"/><circle cx="531.8" cy="245.9" r="1.0"/><circle cx="532.0" cy="236.8" r="1.0"/><circle cx="532.1" cy="245.5" r="1.0"/><circle cx="532.6" cy="236.0" r="1.0"/><circle cx="532.7" cy="246.0" r="1.0"/><circle cx="532.8" cy="243.0" r="1.0"/><circle cx="533.1" cy="246.0" r="1.0"/><circle cx="533.4" cy="247.3" r="1.0"/><circle cx="442.2" cy="234.6" r="1.0"/><circle cx="442.2" cy="243.4" r="1.0"/><circle cx="492.9" cy="221.9" r="1.0"/><circle cx="491.0" cy="229.9" r="1.0"/><circle cx="488.7" cy="240.6" r="1.0"/><circle cx="487.8" cy="274.9" r="1.0"/><circle cx="496.3" cy="276.3" r="1.0"/><circle cx="498.6" cy="287.0" r="1.0"/><circle cx="503.1" cy="231.5" r="1.0"/><circle cx="503.8" cy="240.1" r="1.0"/><circle cx="503.1" cy="267.6" r="1.0"/><circle cx="513.1" cy="209.5" r="1.0"/><circle cx="513.1" cy="225.7" r="1.0"/><circle cx="511.8" cy="235.1" r="1.0"/><circle cx="510.4" cy="285.1" r="1.0"/><circle cx="522.6" cy="290.5" r="1.0"/><circle cx="516.0" cy="271.0" r="1.0"/><circle cx="518.0" cy="273.5" r="1.0"/><circle cx="318.2" cy="277.6" r="1.0"/><circle cx="326.5" cy="242.5" r="1.0"/><circle cx="333.0" cy="241.7" r="1.0"/><circle cx="372.7" cy="250.4" r="1.0"/><circle cx="464.0" cy="274.1" r="1.0"/></g>
<line x1="205.8" y1="16.2" x2="220.3" y2="16.2" stroke="#1515f5" stroke-width="1.8"/>
<line x1="205.8" y1="25.4" x2="220.3" y2="25.4" stroke="#ff0000" stroke-width="1.8"/>
<text class="lg" x="225.3" y="18.7" font-size="7.1" textLength="28.6" lengthAdjust="spacingAndGlyphs">Real_SOH</text>
<text class="lg" x="225.3" y="27.8" font-size="7.1" textLength="33.3" lengthAdjust="spacingAndGlyphs">Predict_ones</text>
<line x1="483.6" y1="15.3" x2="498" y2="15.3" stroke="#1515f5" stroke-width="1.8"/>
<line x1="483.6" y1="24.4" x2="498" y2="24.4" stroke="#ff0000" stroke-width="1.8"/>
<text class="lg" x="503.1" y="17.7" font-size="7.1" textLength="28.6" lengthAdjust="spacingAndGlyphs">Real_SOH</text>
<text class="lg" x="503.1" y="27.0" font-size="7.1" textLength="33.6" lengthAdjust="spacingAndGlyphs">Predict_ones</text>
<circle cx="229.1" cy="196.5" r="1.1" fill="#ff0000"/>
<text class="lg" x="241.5" y="198.1" font-size="6.3" textLength="17.8" lengthAdjust="spacingAndGlyphs">LSTM</text>
<circle cx="506.5" cy="196.8" r="1.1" fill="#ff0000"/>
<text class="lg" x="519" y="198.6" font-size="6.3" textLength="17.4" lengthAdjust="spacingAndGlyphs">LSTM</text>
<rect x="31.50" y="7.60" width="234.00" height="138.90" fill="none" stroke="#1a1a1a" stroke-width="1.3"/>
<line x1="31.50" y1="146.50" x2="31.50" y2="144.90" stroke="#1a1a1a" stroke-width="0.9"/>
<line x1="86.53" y1="146.50" x2="86.53" y2="144.90" stroke="#1a1a1a" stroke-width="0.9"/>
<line x1="141.55" y1="146.50" x2="141.55" y2="144.90" stroke="#1a1a1a" stroke-width="0.9"/>
<line x1="196.58" y1="146.50" x2="196.58" y2="144.90" stroke="#1a1a1a" stroke-width="0.9"/>
<line x1="251.60" y1="146.50" x2="251.60" y2="144.90" stroke="#1a1a1a" stroke-width="0.9"/>
<line x1="31.50" y1="132.30" x2="33.10" y2="132.30" stroke="#1a1a1a" stroke-width="0.9"/>
<line x1="31.50" y1="103.00" x2="33.10" y2="103.00" stroke="#1a1a1a" stroke-width="0.9"/>
<line x1="31.50" y1="73.70" x2="33.10" y2="73.70" stroke="#1a1a1a" stroke-width="0.9"/>
<line x1="31.50" y1="44.40" x2="33.10" y2="44.40" stroke="#1a1a1a" stroke-width="0.9"/>
<line x1="31.50" y1="15.10" x2="33.10" y2="15.10" stroke="#1a1a1a" stroke-width="0.9"/>
<text x="31.50" y="156.80" text-anchor="middle">0</text>
<text x="86.53" y="156.80" text-anchor="middle">200</text>
<text x="141.55" y="156.80" text-anchor="middle">400</text>
<text x="196.58" y="156.80" text-anchor="middle">600</text>
<text x="251.60" y="156.80" text-anchor="middle">800</text>
<text x="27.50" y="135.30" text-anchor="end">20</text>
<text x="27.50" y="106.00" text-anchor="end">40</text>
<text x="27.50" y="76.70" text-anchor="end">60</text>
<text x="27.50" y="47.40" text-anchor="end">80</text>
<text x="27.50" y="18.10" text-anchor="end">100</text>
<text x="148.50" y="164.50" text-anchor="middle">Cycle</text>
<text transform="translate(12.90,77.00) rotate(-90)" text-anchor="middle">SOH(%)</text>
<text x="136.20" y="182.50" text-anchor="middle" font-size="11.5">(<tspan font-weight="bold">a</tspan>)</text>
<rect x="307.10" y="6.90" width="236.30" height="140.10" fill="none" stroke="#1a1a1a" stroke-width="1.3"/>
<line x1="307.10" y1="147.00" x2="307.10" y2="145.40" stroke="#1a1a1a" stroke-width="0.9"/>
<line x1="354.45" y1="147.00" x2="354.45" y2="145.40" stroke="#1a1a1a" stroke-width="0.9"/>
<line x1="401.80" y1="147.00" x2="401.80" y2="145.40" stroke="#1a1a1a" stroke-width="0.9"/>
<line x1="449.15" y1="147.00" x2="449.15" y2="145.40" stroke="#1a1a1a" stroke-width="0.9"/>
<line x1="496.50" y1="147.00" x2="496.50" y2="145.40" stroke="#1a1a1a" stroke-width="0.9"/>
<line x1="307.10" y1="132.40" x2="308.70" y2="132.40" stroke="#1a1a1a" stroke-width="0.9"/>
<line x1="307.10" y1="102.83" x2="308.70" y2="102.83" stroke="#1a1a1a" stroke-width="0.9"/>
<line x1="307.10" y1="73.25" x2="308.70" y2="73.25" stroke="#1a1a1a" stroke-width="0.9"/>
<line x1="307.10" y1="43.67" x2="308.70" y2="43.67" stroke="#1a1a1a" stroke-width="0.9"/>
<line x1="307.10" y1="14.10" x2="308.70" y2="14.10" stroke="#1a1a1a" stroke-width="0.9"/>
<text x="307.10" y="157.30" text-anchor="middle">0</text>
<text x="354.45" y="157.30" text-anchor="middle">200</text>
<text x="401.80" y="157.30" text-anchor="middle">400</text>
<text x="449.15" y="157.30" text-anchor="middle">600</text>
<text x="496.50" y="157.30" text-anchor="middle">800</text>
<text x="303.10" y="135.40" text-anchor="end">20</text>
<text x="303.10" y="105.83" text-anchor="end">40</text>
<text x="303.10" y="76.25" text-anchor="end">60</text>
<text x="303.10" y="46.67" text-anchor="end">80</text>
<text x="303.10" y="17.10" text-anchor="end">100</text>
<text x="425.25" y="165.00" text-anchor="middle">Cycle</text>
<text transform="translate(289.20,76.50) rotate(-90)" text-anchor="middle">SOH(%)</text>
<text x="413.20" y="183.00" text-anchor="middle" font-size="11.5">(<tspan font-weight="bold">b</tspan>)</text>
<rect x="28.50" y="187.80" width="237.10" height="140.80" fill="none" stroke="#2c2c2c" stroke-width="1.05"/>
<line x1="28.50" y1="328.60" x2="28.50" y2="327.00" stroke="#2c2c2c" stroke-width="0.9"/>
<line x1="84.25" y1="328.60" x2="84.25" y2="327.00" stroke="#2c2c2c" stroke-width="0.9"/>
<line x1="140.00" y1="328.60" x2="140.00" y2="327.00" stroke="#2c2c2c" stroke-width="0.9"/>
<line x1="195.75" y1="328.60" x2="195.75" y2="327.00" stroke="#2c2c2c" stroke-width="0.9"/>
<line x1="251.50" y1="328.60" x2="251.50" y2="327.00" stroke="#2c2c2c" stroke-width="0.9"/>
<line x1="28.50" y1="314.20" x2="30.10" y2="314.20" stroke="#2c2c2c" stroke-width="0.9"/>
<line x1="28.50" y1="286.00" x2="30.10" y2="286.00" stroke="#2c2c2c" stroke-width="0.9"/>
<line x1="28.50" y1="257.80" x2="30.10" y2="257.80" stroke="#2c2c2c" stroke-width="0.9"/>
<line x1="28.50" y1="229.60" x2="30.10" y2="229.60" stroke="#2c2c2c" stroke-width="0.9"/>
<line x1="28.50" y1="201.40" x2="30.10" y2="201.40" stroke="#2c2c2c" stroke-width="0.9"/>
<text x="28.50" y="338.90" text-anchor="middle">0</text>
<text x="84.25" y="338.90" text-anchor="middle">200</text>
<text x="140.00" y="338.90" text-anchor="middle">400</text>
<text x="195.75" y="338.90" text-anchor="middle">600</text>
<text x="251.50" y="338.90" text-anchor="middle">800</text>
<text x="24.00" y="317.20" text-anchor="end">−8</text>
<text x="24.00" y="289.00" text-anchor="end">−4</text>
<text x="24.00" y="260.80" text-anchor="end">0</text>
<text x="24.00" y="232.60" text-anchor="end">4</text>
<text x="24.00" y="204.40" text-anchor="end">8</text>
<text x="147.05" y="346.60" text-anchor="middle">Cycle</text>
<text transform="translate(12.30,257.70) rotate(-90)" text-anchor="middle">Estimation error(%)</text>
<text x="136.20" y="364.60" text-anchor="middle" font-size="11.5">(<tspan font-weight="bold">c</tspan>)</text>
<rect x="305.80" y="187.90" width="236.40" height="140.70" fill="none" stroke="#2c2c2c" stroke-width="1.05"/>
<line x1="305.80" y1="328.60" x2="305.80" y2="327.00" stroke="#2c2c2c" stroke-width="0.9"/>
<line x1="353.10" y1="328.60" x2="353.10" y2="327.00" stroke="#2c2c2c" stroke-width="0.9"/>
<line x1="400.40" y1="328.60" x2="400.40" y2="327.00" stroke="#2c2c2c" stroke-width="0.9"/>
<line x1="447.70" y1="328.60" x2="447.70" y2="327.00" stroke="#2c2c2c" stroke-width="0.9"/>
<line x1="495.00" y1="328.60" x2="495.00" y2="327.00" stroke="#2c2c2c" stroke-width="0.9"/>
<line x1="305.80" y1="314.60" x2="307.40" y2="314.60" stroke="#2c2c2c" stroke-width="0.9"/>
<line x1="305.80" y1="286.40" x2="307.40" y2="286.40" stroke="#2c2c2c" stroke-width="0.9"/>
<line x1="305.80" y1="258.20" x2="307.40" y2="258.20" stroke="#2c2c2c" stroke-width="0.9"/>
<line x1="305.80" y1="230.00" x2="307.40" y2="230.00" stroke="#2c2c2c" stroke-width="0.9"/>
<line x1="305.80" y1="201.80" x2="307.40" y2="201.80" stroke="#2c2c2c" stroke-width="0.9"/>
<text x="305.80" y="338.90" text-anchor="middle">0</text>
<text x="353.10" y="338.90" text-anchor="middle">200</text>
<text x="400.40" y="338.90" text-anchor="middle">400</text>
<text x="447.70" y="338.90" text-anchor="middle">600</text>
<text x="495.00" y="338.90" text-anchor="middle">800</text>
<text x="301.90" y="317.60" text-anchor="end">−8</text>
<text x="301.90" y="289.40" text-anchor="end">−4</text>
<text x="301.90" y="261.20" text-anchor="end">0</text>
<text x="301.90" y="233.00" text-anchor="end">4</text>
<text x="301.90" y="204.80" text-anchor="end">8</text>
<text x="424.00" y="346.60" text-anchor="middle">Cycle</text>
<text transform="translate(289.60,257.20) rotate(-90)" text-anchor="middle">Estimation error(%)</text>
<text x="413.50" y="364.60" text-anchor="middle" font-size="11.5">(<tspan font-weight="bold">d</tspan>)</text>
</svg></body></html>
